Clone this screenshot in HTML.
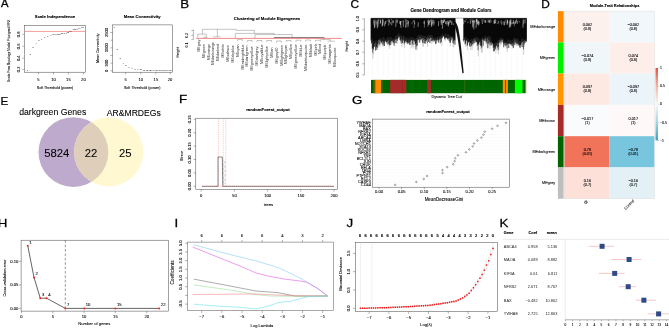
<!DOCTYPE html>
<html><head><meta charset="utf-8"><style>
html,body{margin:0;padding:0;background:#fff;width:669px;height:328px;overflow:hidden}
svg text{font-family:"Liberation Sans", sans-serif}
svg{will-change:transform}
svg text{stroke:currentColor;stroke-width:0.08px}
svg text[font-weight=bold]{stroke-width:0.12px}
svg text.pt{stroke:none}
</style></head><body>
<svg width="669" height="328" viewBox="0 0 669 328" style="display:block"><defs><linearGradient id="lg" x1="0" y1="0" x2="0" y2="1"><stop offset="0" stop-color="#e0553f"/><stop offset="0.25" stop-color="#f6b3a3"/><stop offset="0.5" stop-color="#f7f7f7"/><stop offset="0.75" stop-color="#a3d5e6"/><stop offset="1" stop-color="#3b9fc4"/></linearGradient></defs>
<text transform="translate(0.9 6.5) scale(1.08 1)" x="0" y="0" font-size="10.4" style="stroke-width:0.25px">A</text>
<text transform="translate(180.2 7.6) scale(1.28 1)" x="0" y="0" font-size="10.4" style="stroke-width:0.25px">B</text>
<text transform="translate(350.4 7.6) scale(1.14 1)" x="0" y="0" font-size="10.4" style="stroke-width:0.25px">C</text>
<text transform="translate(541.2 7.6) scale(1.14 1)" x="0" y="0" font-size="10.4" style="stroke-width:0.25px">D</text>
<text transform="translate(0.4 104.6) scale(1.12 1)" x="0" y="0" font-size="10.4" style="stroke-width:0.25px">E</text>
<text transform="translate(178.9 102.6) scale(1.28 1)" x="0" y="0" font-size="10.4" style="stroke-width:0.25px">F</text>
<text transform="translate(351.9 103.9) scale(1.28 1)" x="0" y="0" font-size="10.4" style="stroke-width:0.25px">G</text>
<text transform="translate(-2.3 226.9) scale(1.28 1)" x="0" y="0" font-size="10.4" style="stroke-width:0.25px">H</text>
<text transform="translate(174.5 226.8) scale(1.28 1)" x="0" y="0" font-size="10.4" style="stroke-width:0.25px">I</text>
<text transform="translate(346.6 226.6) scale(1.28 1)" x="0" y="0" font-size="10.4" style="stroke-width:0.25px">J</text>
<text transform="translate(499.6 226.9) scale(1.28 1)" x="0" y="0" font-size="10.4" style="stroke-width:0.25px">K</text>
<rect x="24.4" y="25.3" width="61" height="46.9" fill="none" stroke="#444" stroke-width="0.5"/>
<text x="55" y="18.21" font-size="4.2" text-anchor="middle" font-weight="bold">Scale Independence</text>
<line x1="24.4" y1="31.4" x2="85.4" y2="31.4" stroke="#f27b7b" stroke-width="0.75"/>
<line x1="22.2" y1="69.4" x2="24.4" y2="69.4" stroke="#444" stroke-width="0.4"/>
<text x="20.48" y="69.4" font-size="4.1" text-anchor="middle" transform="rotate(-90 20.48 69.4)">0.2</text>
<line x1="22.2" y1="58.2" x2="24.4" y2="58.2" stroke="#444" stroke-width="0.4"/>
<text x="20.48" y="58.2" font-size="4.1" text-anchor="middle" transform="rotate(-90 20.48 58.2)">0.4</text>
<line x1="22.2" y1="46.3" x2="24.4" y2="46.3" stroke="#444" stroke-width="0.4"/>
<text x="20.48" y="46.3" font-size="4.1" text-anchor="middle" transform="rotate(-90 20.48 46.3)">0.6</text>
<line x1="22.2" y1="34.3" x2="24.4" y2="34.3" stroke="#444" stroke-width="0.4"/>
<text x="20.48" y="34.3" font-size="4.1" text-anchor="middle" transform="rotate(-90 20.48 34.3)">0.8</text>
<line x1="38.5" y1="72.2" x2="38.5" y2="74.4" stroke="#444" stroke-width="0.4"/>
<text x="38.5" y="80.68" font-size="4.1" text-anchor="middle">5</text>
<line x1="53.5" y1="72.2" x2="53.5" y2="74.4" stroke="#444" stroke-width="0.4"/>
<text x="53.5" y="80.68" font-size="4.1" text-anchor="middle">10</text>
<line x1="68.4" y1="72.2" x2="68.4" y2="74.4" stroke="#444" stroke-width="0.4"/>
<text x="68.4" y="80.68" font-size="4.1" text-anchor="middle">15</text>
<line x1="83.4" y1="72.2" x2="83.4" y2="74.4" stroke="#444" stroke-width="0.4"/>
<text x="83.4" y="80.68" font-size="4.1" text-anchor="middle">20</text>
<text x="55" y="89.2" font-size="3.6" text-anchor="middle">Soft Threshold (power)</text>
<text x="10.39" y="51" font-size="3.3" text-anchor="middle" transform="rotate(-90 10.39 51)">Scale Free Topology Model Fit,signed R^2</text>
<text x="27.3" y="70.96" font-size="2.4" text-anchor="middle" fill="#111" class="pt">1</text>
<text x="30.1" y="55.26" font-size="2.4" text-anchor="middle" fill="#111" class="pt">2</text>
<text x="33" y="47.96" font-size="2.4" text-anchor="middle" fill="#111" class="pt">3</text>
<text x="36.2" y="43.86" font-size="2.4" text-anchor="middle" fill="#111" class="pt">4</text>
<text x="39" y="41.46" font-size="2.4" text-anchor="middle" fill="#111" class="pt">5</text>
<text x="41.7" y="39.86" font-size="2.4" text-anchor="middle" fill="#111" class="pt">6</text>
<text x="44.7" y="38.26" font-size="2.4" text-anchor="middle" fill="#111" class="pt">7</text>
<text x="47.6" y="37.06" font-size="2.4" text-anchor="middle" fill="#111" class="pt">8</text>
<text x="50.8" y="36.16" font-size="2.4" text-anchor="middle" fill="#111" class="pt">9</text>
<text x="53.6" y="35.36" font-size="2.4" text-anchor="middle" fill="#111" class="pt">10</text>
<text x="56.5" y="34.66" font-size="2.4" text-anchor="middle" fill="#111" class="pt">11</text>
<text x="59.2" y="34.56" font-size="2.4" text-anchor="middle" fill="#111" class="pt">12</text>
<text x="62.1" y="34.16" font-size="2.4" text-anchor="middle" fill="#111" class="pt">13</text>
<text x="65.4" y="33.86" font-size="2.4" text-anchor="middle" fill="#111" class="pt">14</text>
<text x="67.8" y="33.36" font-size="2.4" text-anchor="middle" fill="#111" class="pt">15</text>
<text x="70.5" y="32.26" font-size="2.4" text-anchor="middle" fill="#111" class="pt">16</text>
<text x="73.8" y="30.46" font-size="2.4" text-anchor="middle" fill="#111" class="pt">17</text>
<text x="76.2" y="29.66" font-size="2.4" text-anchor="middle" fill="#111" class="pt">18</text>
<text x="79.4" y="28.86" font-size="2.4" text-anchor="middle" fill="#111" class="pt">19</text>
<text x="82.7" y="28.16" font-size="2.4" text-anchor="middle" fill="#111" class="pt">20</text>
<rect x="112.5" y="24.9" width="60.1" height="47.3" fill="none" stroke="#444" stroke-width="0.5"/>
<text x="142.2" y="18.21" font-size="4.2" text-anchor="middle" font-weight="bold">Mean Connectivity</text>
<line x1="110.3" y1="70.8" x2="112.5" y2="70.8" stroke="#444" stroke-width="0.4"/>
<text x="108.28" y="70.8" font-size="4.1" text-anchor="middle" transform="rotate(-90 108.28 70.8)">0</text>
<line x1="110.3" y1="63.1" x2="112.5" y2="63.1" stroke="#444" stroke-width="0.4"/>
<text x="108.28" y="63.1" font-size="4.1" text-anchor="middle" transform="rotate(-90 108.28 63.1)">500</text>
<line x1="110.3" y1="55.5" x2="112.5" y2="55.5" stroke="#444" stroke-width="0.4"/>
<line x1="110.3" y1="47.8" x2="112.5" y2="47.8" stroke="#444" stroke-width="0.4"/>
<text x="108.28" y="47.8" font-size="4.1" text-anchor="middle" transform="rotate(-90 108.28 47.8)">1500</text>
<line x1="110.3" y1="40.2" x2="112.5" y2="40.2" stroke="#444" stroke-width="0.4"/>
<line x1="110.3" y1="32.5" x2="112.5" y2="32.5" stroke="#444" stroke-width="0.4"/>
<text x="108.28" y="32.5" font-size="4.1" text-anchor="middle" transform="rotate(-90 108.28 32.5)">2500</text>
<line x1="125.7" y1="72.2" x2="125.7" y2="74.4" stroke="#444" stroke-width="0.4"/>
<text x="125.7" y="80.68" font-size="4.1" text-anchor="middle">5</text>
<line x1="140.8" y1="72.2" x2="140.8" y2="74.4" stroke="#444" stroke-width="0.4"/>
<text x="140.8" y="80.68" font-size="4.1" text-anchor="middle">10</text>
<line x1="155.9" y1="72.2" x2="155.9" y2="74.4" stroke="#444" stroke-width="0.4"/>
<text x="155.9" y="80.68" font-size="4.1" text-anchor="middle">15</text>
<line x1="170.1" y1="72.2" x2="170.1" y2="74.4" stroke="#444" stroke-width="0.4"/>
<text x="170.1" y="80.68" font-size="4.1" text-anchor="middle">20</text>
<text x="142.2" y="89.2" font-size="3.6" text-anchor="middle">Soft Threshold (power)</text>
<text x="99.4" y="48.2" font-size="3.6" text-anchor="middle" transform="rotate(-90 99.4 48.2)">Mean Connectivity</text>
<text x="114.17" y="28.06" font-size="2.4" text-anchor="middle" fill="#111" class="pt">1</text>
<text x="117.13" y="49.56" font-size="2.4" text-anchor="middle" fill="#111" class="pt">2</text>
<text x="120.09" y="58.76" font-size="2.4" text-anchor="middle" fill="#111" class="pt">3</text>
<text x="123.06" y="63.56" font-size="2.4" text-anchor="middle" fill="#111" class="pt">4</text>
<text x="126.03" y="66.16" font-size="2.4" text-anchor="middle" fill="#111" class="pt">5</text>
<text x="128.99" y="67.76" font-size="2.4" text-anchor="middle" fill="#111" class="pt">6</text>
<text x="131.96" y="68.86" font-size="2.4" text-anchor="middle" fill="#111" class="pt">7</text>
<text x="134.92" y="69.66" font-size="2.4" text-anchor="middle" fill="#111" class="pt">8</text>
<text x="137.88" y="70.06" font-size="2.4" text-anchor="middle" fill="#111" class="pt">9</text>
<text x="140.85" y="70.36" font-size="2.4" text-anchor="middle" fill="#111" class="pt">10</text>
<text x="143.81" y="70.56" font-size="2.4" text-anchor="middle" fill="#111" class="pt">11</text>
<text x="146.78" y="70.66" font-size="2.4" text-anchor="middle" fill="#111" class="pt">12</text>
<text x="149.75" y="70.86" font-size="2.4" text-anchor="middle" fill="#111" class="pt">13</text>
<text x="152.71" y="70.96" font-size="2.4" text-anchor="middle" fill="#111" class="pt">14</text>
<text x="155.68" y="70.96" font-size="2.4" text-anchor="middle" fill="#111" class="pt">15</text>
<text x="158.64" y="70.96" font-size="2.4" text-anchor="middle" fill="#111" class="pt">16</text>
<text x="161.61" y="71.16" font-size="2.4" text-anchor="middle" fill="#111" class="pt">17</text>
<text x="164.57" y="71.16" font-size="2.4" text-anchor="middle" fill="#111" class="pt">18</text>
<text x="167.53" y="71.16" font-size="2.4" text-anchor="middle" fill="#111" class="pt">19</text>
<text x="170.5" y="71.16" font-size="2.4" text-anchor="middle" fill="#111" class="pt">20</text>
<text x="267" y="20.41" font-size="4.2" text-anchor="middle" font-weight="bold">Clustering of Module Eigengenes</text>
<text x="179.3" y="52.4" font-size="3.6" text-anchor="middle" transform="rotate(-90 179.3 52.4)">Height</text>
<line x1="193.3" y1="29.6" x2="193.3" y2="39.5" stroke="#444" stroke-width="0.4"/>
<text x="188.12" y="44.8" font-size="3.4" text-anchor="middle" transform="rotate(-90 188.12 44.8)">0.1</text>
<text x="188.12" y="35.4" font-size="3.4" text-anchor="middle" transform="rotate(-90 188.12 35.4)">0.3</text>
<line x1="191.3" y1="30.5" x2="193.3" y2="30.5" stroke="#444" stroke-width="0.35"/>
<line x1="191.3" y1="35.4" x2="193.3" y2="35.4" stroke="#444" stroke-width="0.35"/>
<line x1="191.3" y1="39.5" x2="193.3" y2="39.5" stroke="#444" stroke-width="0.35"/>
<text x="199.8" y="39.5" font-size="3.5" text-anchor="end" fill="#222" transform="rotate(-90 199.8 39.5)" class="pt">MEgrey</text>
<text x="204.67" y="44.1" font-size="3.5" text-anchor="end" fill="#222" transform="rotate(-90 204.67 44.1)" class="pt">MEgreen</text>
<text x="209.54" y="44.1" font-size="3.5" text-anchor="end" fill="#222" transform="rotate(-90 209.54 44.1)" class="pt">MEorange</text>
<text x="214.4" y="42.2" font-size="3.5" text-anchor="end" fill="#222" transform="rotate(-90 214.4 42.2)" class="pt">MEdarkorange</text>
<text x="219.27" y="44.1" font-size="3.5" text-anchor="end" fill="#222" transform="rotate(-90 219.27 44.1)" class="pt">MEdarkred</text>
<text x="224.14" y="44.1" font-size="3.5" text-anchor="end" fill="#222" transform="rotate(-90 224.14 44.1)" class="pt">MEwhite</text>
<text x="229.01" y="45.3" font-size="3.5" text-anchor="end" fill="#222" transform="rotate(-90 229.01 45.3)" class="pt">MEsalmon</text>
<text x="233.87" y="45.3" font-size="3.5" text-anchor="end" fill="#222" transform="rotate(-90 233.87 45.3)" class="pt">MEskyblue</text>
<text x="238.74" y="44.5" font-size="3.5" text-anchor="end" fill="#222" transform="rotate(-90 238.74 44.5)" class="pt">MEcyan</text>
<text x="243.61" y="44.5" font-size="3.5" text-anchor="end" fill="#222" transform="rotate(-90 243.61 44.5)" class="pt">MEmidnightblue</text>
<text x="248.48" y="45.5" font-size="3.5" text-anchor="end" fill="#222" transform="rotate(-90 248.48 45.5)" class="pt">MEdarkgreen</text>
<text x="253.35" y="46.5" font-size="3.5" text-anchor="end" fill="#222" transform="rotate(-90 253.35 46.5)" class="pt">MEgreenyellow</text>
<text x="258.21" y="46.5" font-size="3.5" text-anchor="end" fill="#222" transform="rotate(-90 258.21 46.5)" class="pt">MEdarkgrey</text>
<text x="263.08" y="44.5" font-size="3.5" text-anchor="end" fill="#222" transform="rotate(-90 263.08 44.5)" class="pt">MEroyalblue</text>
<text x="267.95" y="46.1" font-size="3.5" text-anchor="end" fill="#222" transform="rotate(-90 267.95 46.1)" class="pt">MElightyellow</text>
<text x="272.82" y="47.5" font-size="3.5" text-anchor="end" fill="#222" transform="rotate(-90 272.82 47.5)" class="pt">MEtan</text>
<text x="277.69" y="47.5" font-size="3.5" text-anchor="end" fill="#222" transform="rotate(-90 277.69 47.5)" class="pt">MEgrey60</text>
<text x="282.55" y="45.1" font-size="3.5" text-anchor="end" fill="#222" transform="rotate(-90 282.55 45.1)" class="pt">MElightgreen</text>
<text x="287.42" y="45.1" font-size="3.5" text-anchor="end" fill="#222" transform="rotate(-90 287.42 45.1)" class="pt">MElightcyan</text>
<text x="292.29" y="44" font-size="3.5" text-anchor="end" fill="#222" transform="rotate(-90 292.29 44)" class="pt">MEyellow</text>
<text x="297.16" y="44.5" font-size="3.5" text-anchor="end" fill="#222" transform="rotate(-90 297.16 44.5)" class="pt">MEgreenyellow</text>
<text x="302.02" y="44.5" font-size="3.5" text-anchor="end" fill="#222" transform="rotate(-90 302.02 44.5)" class="pt">MEblue</text>
<text x="306.89" y="44.5" font-size="3.5" text-anchor="end" fill="#222" transform="rotate(-90 306.89 44.5)" class="pt">MEdarkturquoise</text>
<text x="311.76" y="43.8" font-size="3.5" text-anchor="end" fill="#222" transform="rotate(-90 311.76 43.8)" class="pt">MEblack</text>
<text x="316.63" y="43.8" font-size="3.5" text-anchor="end" fill="#222" transform="rotate(-90 316.63 43.8)" class="pt">MEpink</text>
<text x="321.5" y="43.8" font-size="3.5" text-anchor="end" fill="#222" transform="rotate(-90 321.5 43.8)" class="pt">MEred</text>
<text x="326.36" y="44.5" font-size="3.5" text-anchor="end" fill="#222" transform="rotate(-90 326.36 44.5)" class="pt">MEpurple</text>
<text x="331.23" y="44.5" font-size="3.5" text-anchor="end" fill="#222" transform="rotate(-90 331.23 44.5)" class="pt">MEmagenta</text>
<text x="336.1" y="47.6" font-size="3.5" text-anchor="end" fill="#222" transform="rotate(-90 336.1 47.6)" class="pt">MEturquoise</text>
<line x1="202.4" y1="29.3" x2="236.1" y2="29.3" stroke="#555" stroke-width="0.35"/>
<line x1="202.4" y1="29.3" x2="202.4" y2="34.1" stroke="#555" stroke-width="0.35"/>
<line x1="197.8" y1="34.1" x2="206.2" y2="34.1" stroke="#555" stroke-width="0.35"/>
<line x1="197.8" y1="34.1" x2="197.8" y2="38.4" stroke="#555" stroke-width="0.35"/>
<line x1="206.2" y1="34.1" x2="206.2" y2="37.4" stroke="#555" stroke-width="0.35"/>
<line x1="203.3" y1="37.4" x2="207.4" y2="37.4" stroke="#555" stroke-width="0.35"/>
<line x1="217.3" y1="29.3" x2="217.3" y2="36.8" stroke="#555" stroke-width="0.35"/>
<line x1="213" y1="36.8" x2="220.5" y2="36.8" stroke="#555" stroke-width="0.35"/>
<line x1="236.1" y1="29.3" x2="236.1" y2="30.3" stroke="#555" stroke-width="0.35"/>
<line x1="236.1" y1="30.3" x2="254.4" y2="30.3" stroke="#555" stroke-width="0.35"/>
<line x1="254.4" y1="30.3" x2="254.4" y2="33.4" stroke="#555" stroke-width="0.35"/>
<line x1="235.3" y1="33.4" x2="274.2" y2="33.4" stroke="#555" stroke-width="0.35"/>
<line x1="235.3" y1="33.4" x2="235.3" y2="38.4" stroke="#555" stroke-width="0.35"/>
<line x1="274.2" y1="33.4" x2="274.2" y2="34.5" stroke="#555" stroke-width="0.35"/>
<line x1="255" y1="34.5" x2="292.2" y2="34.5" stroke="#555" stroke-width="0.35"/>
<line x1="255" y1="34.5" x2="255" y2="38.4" stroke="#555" stroke-width="0.35"/>
<line x1="292.2" y1="34.5" x2="292.2" y2="37.5" stroke="#555" stroke-width="0.35"/>
<line x1="274" y1="37.5" x2="324.2" y2="37.5" stroke="#333" stroke-width="0.6"/>
<line x1="324.2" y1="37.5" x2="324.2" y2="39.6" stroke="#555" stroke-width="0.35"/>
<line x1="320.4" y1="39.6" x2="330.3" y2="39.6" stroke="#555" stroke-width="0.35"/>
<line x1="330.3" y1="39.6" x2="330.3" y2="41.2" stroke="#555" stroke-width="0.35"/>
<line x1="327.5" y1="41.2" x2="334.9" y2="41.2" stroke="#555" stroke-width="0.35"/>
<line x1="237.54" y1="39.6" x2="242.41" y2="39.6" stroke="#555" stroke-width="0.35"/>
<line x1="237.54" y1="39.6" x2="237.54" y2="41.2" stroke="#555" stroke-width="0.35"/>
<line x1="242.41" y1="39.6" x2="242.41" y2="41.2" stroke="#555" stroke-width="0.35"/>
<line x1="247.28" y1="40.5" x2="252.15" y2="40.5" stroke="#555" stroke-width="0.35"/>
<line x1="247.28" y1="40.5" x2="247.28" y2="42.1" stroke="#555" stroke-width="0.35"/>
<line x1="252.15" y1="40.5" x2="252.15" y2="42.1" stroke="#555" stroke-width="0.35"/>
<line x1="257.01" y1="40.5" x2="261.88" y2="40.5" stroke="#555" stroke-width="0.35"/>
<line x1="257.01" y1="40.5" x2="257.01" y2="42.1" stroke="#555" stroke-width="0.35"/>
<line x1="261.88" y1="40.5" x2="261.88" y2="42.1" stroke="#555" stroke-width="0.35"/>
<line x1="266.75" y1="40.5" x2="271.62" y2="40.5" stroke="#555" stroke-width="0.35"/>
<line x1="266.75" y1="40.5" x2="266.75" y2="42.1" stroke="#555" stroke-width="0.35"/>
<line x1="271.62" y1="40.5" x2="271.62" y2="42.1" stroke="#555" stroke-width="0.35"/>
<line x1="276.49" y1="41" x2="281.35" y2="41" stroke="#555" stroke-width="0.35"/>
<line x1="276.49" y1="41" x2="276.49" y2="42.6" stroke="#555" stroke-width="0.35"/>
<line x1="281.35" y1="41" x2="281.35" y2="42.6" stroke="#555" stroke-width="0.35"/>
<line x1="286.22" y1="40.5" x2="291.09" y2="40.5" stroke="#555" stroke-width="0.35"/>
<line x1="286.22" y1="40.5" x2="286.22" y2="42.1" stroke="#555" stroke-width="0.35"/>
<line x1="291.09" y1="40.5" x2="291.09" y2="42.1" stroke="#555" stroke-width="0.35"/>
<line x1="295.96" y1="40.2" x2="300.82" y2="40.2" stroke="#555" stroke-width="0.35"/>
<line x1="295.96" y1="40.2" x2="295.96" y2="41.8" stroke="#555" stroke-width="0.35"/>
<line x1="300.82" y1="40.2" x2="300.82" y2="41.8" stroke="#555" stroke-width="0.35"/>
<line x1="305.69" y1="40" x2="310.56" y2="40" stroke="#555" stroke-width="0.35"/>
<line x1="305.69" y1="40" x2="305.69" y2="41.6" stroke="#555" stroke-width="0.35"/>
<line x1="310.56" y1="40" x2="310.56" y2="41.6" stroke="#555" stroke-width="0.35"/>
<line x1="315.43" y1="40.2" x2="320.3" y2="40.2" stroke="#555" stroke-width="0.35"/>
<line x1="315.43" y1="40.2" x2="315.43" y2="41.8" stroke="#555" stroke-width="0.35"/>
<line x1="320.3" y1="40.2" x2="320.3" y2="41.8" stroke="#555" stroke-width="0.35"/>
<line x1="196.3" y1="38.4" x2="341.8" y2="38.4" stroke="#f26060" stroke-width="0.75"/>
<text x="348.4" y="46.4" font-size="3.6" text-anchor="middle" transform="rotate(-90 348.4 46.4)">Height</text>
<text x="450.9" y="11.92" font-size="4.5" text-anchor="middle" font-weight="bold">Gene Dendrogram and Module Colors</text>
<line x1="364.4" y1="18.8" x2="364.4" y2="75" stroke="#444" stroke-width="0.4"/>
<line x1="362.3" y1="18.8" x2="364.4" y2="18.8" stroke="#444" stroke-width="0.4"/>
<text x="359.3" y="18.8" font-size="3.6" text-anchor="middle" transform="rotate(-90 359.3 18.8)">1.0</text>
<line x1="362.3" y1="29.8" x2="364.4" y2="29.8" stroke="#444" stroke-width="0.4"/>
<text x="359.3" y="29.8" font-size="3.6" text-anchor="middle" transform="rotate(-90 359.3 29.8)">0.9</text>
<line x1="362.3" y1="41.2" x2="364.4" y2="41.2" stroke="#444" stroke-width="0.4"/>
<text x="359.3" y="41.2" font-size="3.6" text-anchor="middle" transform="rotate(-90 359.3 41.2)">0.8</text>
<line x1="362.3" y1="52.2" x2="364.4" y2="52.2" stroke="#444" stroke-width="0.4"/>
<text x="359.3" y="52.2" font-size="3.6" text-anchor="middle" transform="rotate(-90 359.3 52.2)">0.7</text>
<line x1="362.3" y1="63.8" x2="364.4" y2="63.8" stroke="#444" stroke-width="0.4"/>
<text x="359.3" y="63.8" font-size="3.6" text-anchor="middle" transform="rotate(-90 359.3 63.8)">0.6</text>
<line x1="362.3" y1="75" x2="364.4" y2="75" stroke="#444" stroke-width="0.4"/>
<text x="359.3" y="75" font-size="3.6" text-anchor="middle" transform="rotate(-90 359.3 75)">0.5</text>
<line x1="372.5" y1="40" x2="372.5" y2="78.5" stroke="#d0d0d0" stroke-width="0.3" stroke-dasharray="0.7,0.9"/>
<line x1="377.85" y1="40" x2="377.85" y2="78.5" stroke="#d0d0d0" stroke-width="0.3" stroke-dasharray="0.7,0.9"/>
<line x1="383.2" y1="40" x2="383.2" y2="78.5" stroke="#d0d0d0" stroke-width="0.3" stroke-dasharray="0.7,0.9"/>
<line x1="388.55" y1="40" x2="388.55" y2="78.5" stroke="#d0d0d0" stroke-width="0.3" stroke-dasharray="0.7,0.9"/>
<line x1="393.9" y1="40" x2="393.9" y2="78.5" stroke="#d0d0d0" stroke-width="0.3" stroke-dasharray="0.7,0.9"/>
<line x1="399.25" y1="40" x2="399.25" y2="78.5" stroke="#d0d0d0" stroke-width="0.3" stroke-dasharray="0.7,0.9"/>
<line x1="404.6" y1="40" x2="404.6" y2="78.5" stroke="#d0d0d0" stroke-width="0.3" stroke-dasharray="0.7,0.9"/>
<line x1="409.95" y1="40" x2="409.95" y2="78.5" stroke="#d0d0d0" stroke-width="0.3" stroke-dasharray="0.7,0.9"/>
<line x1="415.3" y1="40" x2="415.3" y2="78.5" stroke="#d0d0d0" stroke-width="0.3" stroke-dasharray="0.7,0.9"/>
<line x1="420.65" y1="40" x2="420.65" y2="78.5" stroke="#d0d0d0" stroke-width="0.3" stroke-dasharray="0.7,0.9"/>
<line x1="426" y1="40" x2="426" y2="78.5" stroke="#d0d0d0" stroke-width="0.3" stroke-dasharray="0.7,0.9"/>
<line x1="431.35" y1="40" x2="431.35" y2="78.5" stroke="#d0d0d0" stroke-width="0.3" stroke-dasharray="0.7,0.9"/>
<line x1="436.7" y1="40" x2="436.7" y2="78.5" stroke="#d0d0d0" stroke-width="0.3" stroke-dasharray="0.7,0.9"/>
<line x1="442.05" y1="40" x2="442.05" y2="78.5" stroke="#d0d0d0" stroke-width="0.3" stroke-dasharray="0.7,0.9"/>
<line x1="447.4" y1="40" x2="447.4" y2="78.5" stroke="#d0d0d0" stroke-width="0.3" stroke-dasharray="0.7,0.9"/>
<line x1="452.75" y1="40" x2="452.75" y2="78.5" stroke="#d0d0d0" stroke-width="0.3" stroke-dasharray="0.7,0.9"/>
<line x1="458.1" y1="40" x2="458.1" y2="78.5" stroke="#d0d0d0" stroke-width="0.3" stroke-dasharray="0.7,0.9"/>
<line x1="463.45" y1="40" x2="463.45" y2="78.5" stroke="#d0d0d0" stroke-width="0.3" stroke-dasharray="0.7,0.9"/>
<line x1="468.8" y1="40" x2="468.8" y2="78.5" stroke="#d0d0d0" stroke-width="0.3" stroke-dasharray="0.7,0.9"/>
<line x1="474.15" y1="40" x2="474.15" y2="78.5" stroke="#d0d0d0" stroke-width="0.3" stroke-dasharray="0.7,0.9"/>
<line x1="479.5" y1="40" x2="479.5" y2="78.5" stroke="#d0d0d0" stroke-width="0.3" stroke-dasharray="0.7,0.9"/>
<line x1="484.85" y1="40" x2="484.85" y2="78.5" stroke="#d0d0d0" stroke-width="0.3" stroke-dasharray="0.7,0.9"/>
<line x1="490.2" y1="40" x2="490.2" y2="78.5" stroke="#d0d0d0" stroke-width="0.3" stroke-dasharray="0.7,0.9"/>
<line x1="495.55" y1="40" x2="495.55" y2="78.5" stroke="#d0d0d0" stroke-width="0.3" stroke-dasharray="0.7,0.9"/>
<line x1="500.9" y1="40" x2="500.9" y2="78.5" stroke="#d0d0d0" stroke-width="0.3" stroke-dasharray="0.7,0.9"/>
<line x1="506.25" y1="40" x2="506.25" y2="78.5" stroke="#d0d0d0" stroke-width="0.3" stroke-dasharray="0.7,0.9"/>
<line x1="511.6" y1="40" x2="511.6" y2="78.5" stroke="#d0d0d0" stroke-width="0.3" stroke-dasharray="0.7,0.9"/>
<line x1="516.95" y1="40" x2="516.95" y2="78.5" stroke="#d0d0d0" stroke-width="0.3" stroke-dasharray="0.7,0.9"/>
<line x1="522.3" y1="40" x2="522.3" y2="78.5" stroke="#d0d0d0" stroke-width="0.3" stroke-dasharray="0.7,0.9"/>
<path d="M371,18.3V40.39M371.42,18.3V43.46M371.84,18.3V42.47M372.26,18.3V49M372.68,18.3V52.4M373.1,18.3V47.78M373.52,18.3V49.73M373.94,18.3V46.42M374.36,18.3V46.94M374.78,18.3V44.17M375.2,18.3V43.3M375.62,18.3V50.61M376.04,18.3V47.6M376.46,18.3V47.13M376.88,18.3V49.86M377.3,18.3V44.16M377.72,18.3V47.74M378.14,18.3V43.37M378.56,18.3V39.93M378.98,18.3V45.34M379.4,18.3V40.07M379.82,18.3V44.37M380.24,18.3V40.26M380.66,18.3V41.27M381.08,18.3V43.11M381.5,18.3V42.5M381.92,18.3V41.4M382.34,18.3V40.94M382.76,18.3V44.25M383.18,18.3V45.66M383.6,18.3V41.66M384.02,18.3V43M384.44,18.3V46.11M384.86,18.3V41.23M385.28,18.3V41.41M385.7,18.3V40.52M386.12,18.3V42.35M386.54,18.3V42.33M386.96,18.3V41.41M387.38,18.3V41.42M387.8,18.3V44.61M388.22,18.3V39.99M388.64,18.3V43.69M389.06,18.3V40.02M389.48,18.3V45.13M389.9,18.3V45.19M390.32,18.3V41.96M390.74,18.3V44.87M391.16,18.3V40.6M391.58,18.3V40.78M392,18.3V42.4M392.42,18.3V40.75M392.84,18.3V40.53M393.26,18.3V42.41M393.68,18.3V42.72M394.1,18.3V45.79M394.52,18.3V39.87M394.94,18.3V43.37M395.36,18.3V39.88M395.78,18.3V38.48M396.2,18.3V42.95M396.62,18.3V39.57M397.04,18.3V38.62M397.46,18.3V40.86M397.88,18.3V38.91M398.3,18.3V36.03M398.72,18.3V37.71M399.14,18.3V37.24M399.56,18.3V36.74M399.98,18.3V40.11M400.4,18.3V40.42M400.82,18.3V41.3M401.24,18.3V38.77M401.66,18.3V43.53M402.08,18.3V39.4M402.5,18.3V43.01M402.92,18.3V40.59M403.34,18.3V40.49M403.76,18.3V38.79M404.18,18.3V44.48M404.6,18.3V42.39M405.02,18.3V42.79M405.44,18.3V41.28M405.86,18.3V40.35M406.28,18.3V40.43M406.7,18.3V42.09M407.12,18.3V43.45M407.54,18.3V42.79M407.96,18.3V44.01M408.38,18.3V42.96M408.8,18.3V40.45M409.22,18.3V42.44M409.64,18.3V45.04M410.06,18.3V42.09M410.48,18.3V40.62M410.9,18.3V44.72M411.32,18.3V40.24M411.74,18.3V39.99M412.16,18.3V40.8M412.58,18.3V43.85M413,18.3V44.97M413.42,18.3V39.99M413.84,18.3V40.5M414.26,18.3V41.19M414.68,18.3V41.71M415.1,18.3V44.65M415.52,18.3V43.93M415.94,18.3V49.44M416.36,18.3V42.3M416.78,18.3V46.31M417.2,18.3V45.52M417.62,18.3V39.8M418.04,18.3V38.73M418.46,18.3V39.51M418.88,18.3V40.14M419.3,18.3V42.66M419.72,18.3V37.22M420.14,18.3V40.34M420.56,18.3V39.44M420.98,18.3V37.2M421.4,18.3V39.48M421.82,18.3V39.07M422.24,18.3V38.18M422.66,18.3V42.8M423.08,18.3V43.05M423.5,18.3V38.02M423.92,18.3V40.29M424.34,18.3V39.2M424.76,18.3V43.31M425.18,18.3V43.74M425.6,18.3V40.67M426.02,18.3V41.14M426.44,18.3V40.39M426.86,18.3V38.32M427.28,18.3V43.18M427.7,18.3V39.31M428.12,18.3V38.23M428.54,18.3V41.91M428.96,18.3V37.29M429.38,18.3V38.99M429.8,18.3V43.05M430.22,18.3V37.3M430.64,18.3V37.74M431.06,18.3V41.24M431.48,18.3V38.04M431.9,18.3V41M432.32,18.3V40.92M432.74,18.3V39.9M433.16,18.3V38.6M433.58,18.3V40.31M434,18.3V41.72M434.42,18.3V40.33M434.84,18.3V40.54M435.26,18.3V39.72M435.68,18.3V44.17M436.1,18.3V43.25M436.52,18.3V40.43M436.94,18.3V39.18M437.36,18.3V40.36M437.78,18.3V38.73M438.2,18.3V40.45M438.62,18.3V42.62M439.04,18.3V40.21M439.46,18.3V38.51M439.88,18.3V39.35M440.3,18.3V43.28M440.72,18.3V38.87M441.14,18.3V38.3M441.56,18.3V42.14M441.98,18.3V37.17M442.4,18.3V38.36M442.82,18.3V36.22M443.24,18.3V35.93M443.66,18.3V36.56M444.08,18.3V36.97M444.5,18.3V38.5M444.92,18.3V39.48M445.34,18.3V38.16M445.76,18.3V37.08M446.18,18.3V38.08M446.6,18.3V38.08M447.02,18.3V37.28M447.44,18.3V39.33M447.86,18.3V38.74M448.28,18.3V39.23M448.7,18.3V37.59M449.12,18.3V41.05M449.54,18.3V37.95M449.96,18.3V42.66M450.38,18.3V42.7M450.8,18.3V37.49M451.22,18.3V40.35M451.64,18.3V37.44M452.06,18.3V38.54M452.48,18.3V37.63M452.9,18.3V43.02M453.32,18.3V40.67M453.74,18.3V43.86M454.16,18.3V40.42M454.58,18.3V40.85M455,18.3V44.67M463.4,18.3V40.26M463.82,18.3V41.52M464.24,18.3V39.77M464.66,18.3V39.63M465.08,18.3V44.47M465.5,18.3V43.81M465.92,18.3V40.4M466.34,18.3V40.06M466.76,18.3V41.18M467.18,18.3V46.11M467.6,18.3V44.79M468.02,18.3V42.16M468.44,18.3V42.38M468.86,18.3V41.92M469.28,18.3V41.81M469.7,18.3V45.91M470.12,18.3V46.81M470.54,18.3V43.12M470.96,18.3V43.32M471.38,18.3V45.25M471.8,18.3V46.43M472.22,18.3V44.06M472.64,18.3V41.19M473.06,18.3V44.68M473.48,18.3V42.7M473.9,18.3V40.13M474.32,18.3V38.89M474.74,18.3V43.36M475.16,18.3V41.33M475.58,18.3V39.69M476,18.3V42M476.42,18.3V42.27M476.84,18.3V41.83M477.26,18.3V45.89M477.68,18.3V43.55M478.1,18.3V50.26M478.52,18.3V44.3M478.94,18.3V44.99M479.36,18.3V42.2M479.78,18.3V41.6M480.2,18.3V42.61M480.62,18.3V45.96M481.04,18.3V45.63M481.46,18.3V47.52M481.88,18.3V47.55M482.3,18.3V39.49M482.72,18.3V39.28M483.14,18.3V45.74M483.56,18.3V39.97M483.98,18.3V40.85M484.4,18.3V39.39M484.82,18.3V40.52M485.24,18.3V41.51M485.66,18.3V38.37M486.08,18.3V38.36M486.5,18.3V41.61M486.92,18.3V43.68M487.34,18.3V38.17M487.76,18.3V48.25M488.18,18.3V39.4M488.6,18.3V43.82M489.02,18.3V40.39M489.44,18.3V42.2M489.86,18.3V45.22M490.28,18.3V42.49M490.7,18.3V43.22M491.12,18.3V45.52M491.54,18.3V42.17M491.96,18.3V44.88M492.38,18.3V43.09M492.8,18.3V43.65M493.22,18.3V47.98M493.64,18.3V51.43M494.06,18.3V46.11M494.48,18.3V50.92M494.9,18.3V47.37M495.32,18.3V48.64M495.74,18.3V49.28M496.16,18.3V46.31M496.58,18.3V45.52M497,18.3V43.23M497.42,18.3V47.75M497.84,18.3V43.63M498.26,18.3V49.96M498.68,18.3V47.12M499.1,18.3V42.65M499.52,18.3V40.42M499.94,18.3V43.14M500.36,18.3V41.67M500.78,18.3V40.04M501.2,18.3V42.44M501.62,18.3V40.45M502.04,18.3V39.48M502.46,18.3V39.73M502.88,18.3V41.97M503.3,18.3V43.26M503.72,18.3V47.31M504.14,18.3V44.15M504.56,18.3V42.87M504.98,18.3V45.31M505.4,18.3V43.1M505.82,18.3V46.07M506.24,18.3V43.21M506.66,18.3V44.94M507.08,18.3V48.43M507.5,18.3V44.18M507.92,18.3V43.59M508.34,18.3V43.87M508.76,18.3V48.06M509.18,18.3V43.58M509.6,18.3V43.53M510.02,18.3V43.58M510.44,18.3V44.4M510.86,18.3V44.21M511.28,18.3V44.16M511.7,18.3V45.34M512.12,18.3V45.85M512.54,18.3V43.03M512.96,18.3V46.3M513.38,18.3V47.94M513.8,18.3V43.76M514.22,18.3V39.89M514.64,18.3V45.1M515.06,18.3V41.91M515.48,18.3V42.91M515.9,18.3V40.49M516.32,18.3V43.7M516.74,18.3V44.11M517.16,18.3V42.04M517.58,18.3V44.23M518,18.3V43.82M518.42,18.3V45.34M518.84,18.3V43.91M519.26,18.3V45.47M519.68,18.3V46.81M520.1,18.3V48.08M520.52,18.3V45.04M520.94,18.3V45.33M521.36,18.3V43.36M521.78,18.3V42.12M522.2,18.3V47.04M522.62,18.3V41.62M523.04,18.3V42.3M523.46,18.3V49.34M523.88,18.3V41M524.3,18.3V44.37M524.72,18.3V40.9M525.14,18.3V42.96M525.56,18.3V40.98M525.98,18.3V41.48M526.4,18.3V41.73" stroke="#080808" stroke-width="0.7" fill="none"/>
<path d="M371.62,43.25V44.45M372.04,42.4V42.79M372.46,48.01V53.49M372.88,50.93V59.03M373.72,48.66V54.53M375.4,43.19V43.81M376.66,46.48V50.09M378.34,42.84V45.74M378.76,39.9V40.08M380.02,43.71V47.32M381.28,42.65V45.18M382.54,40.83V41.43M382.96,43.68V46.81M383.8,41.49V42.45M385.48,41.27V42.04M385.9,40.49V40.64M386.32,42.05V43.73M386.74,42.01V43.78M388.84,43.09V46.37M389.68,44.33V48.73M390.52,41.63V43.41M392.2,42.08V43.83M392.62,40.68V41.06M393.46,42.13V43.7M395.98,38.43V38.7M396.82,39.19V41.25M397.66,40.18V43.9M398.5,36.02V36.06M399.76,36.71V36.87M400.6,39.95V42.52M401.02,40.75V43.79M401.44,38.62V39.46M401.86,42.73V47.13M403.12,40.25V42.13M403.96,38.76V38.92M404.38,43.68V48.08M406.48,40.42V40.47M406.9,41.86V43.13M407.74,42.46V44.3M409,40.39V40.75M410.26,41.7V43.81M411.1,43.92V48.32M411.52,40.07V41M412.36,40.56V41.88M412.78,43.19V46.83M413.2,44.17V48.57M414.04,40.39V41.01M414.46,41.01V42.04M415.3,44.01V47.53M416.98,45.41V50.38M417.82,39.71V40.23M418.24,38.71V38.8M418.66,39.3V40.44M419.92,37.15V37.57M420.34,39.78V42.85M421.6,39.06V41.36M422.02,38.74V40.57M422.44,38.01V38.97M422.86,42V46.4M423.28,42.25V46.65M423.7,37.98V38.24M424.54,39.03V39.95M426.64,40.03V42.01M427.06,38.24V38.7M427.48,42.38V46.78M427.9,39.04V40.52M428.32,38.09V38.84M430.84,37.67V38.03M431.26,40.7V43.69M431.68,37.98V38.29M432.52,40.51V42.76M432.94,39.66V40.97M435.04,40.26V41.84M436.72,40.17V41.6M437.56,40.11V41.46M440.08,39.16V40.19M441.34,38.1V39.2M441.76,41.34V45.74M442.18,37.03V37.77M443.44,35.92V35.97M444.28,36.83V37.58M445.12,39.02V41.55M445.96,37.01V37.43M448.06,38.47V39.93M450.16,41.86V46.26M451,37.44V37.72M451.84,37.41V37.6M453.1,42.24V46.56M453.94,43.06V47.46M454.36,40.17V41.53M454.78,40.6V41.95M464.44,39.71V40.02M465.7,43.09V47.03M466.96,40.93V42.32M467.38,45.21V50.17M468.22,41.95V43.11M468.64,42.19V43.19M469.48,41.8V41.83M470.32,46.12V49.91M471.16,43.07V44.42M472,45.63V50.03M472.84,41.01V42.01M474.52,38.86V39M478.3,48.92V56.32M478.72,43.83V46.41M480.82,45.16V49.56M481.66,46.41V52.56M482.08,46.38V52.82M484.6,39.28V39.92M485.44,41.07V43.5M485.86,38.37V38.4M486.28,38.34V38.43M487.12,42.88V47.27M487.54,38.15V38.25M488.8,43.02V47.42M489.22,40.13V41.56M489.64,41.75V44.22M490.06,44.42V48.82M490.48,42.17V43.95M492.58,42.99V43.57M493.42,47.72V49.18M495.1,46.96V49.19M495.94,48.48V52.88M497.2,43.21V43.35M497.62,47.08V50.77M498.04,43.55V44M498.46,48.97V54.39M498.88,46.54V49.72M500.14,42.56V45.75M500.56,41.3V43.34M501.4,41.96V44.59M501.82,40.26V41.33M502.66,39.7V39.86M504.76,42.75V43.44M505.18,44.9V47.18M506.44,43.17V43.41M507.28,47.63V52.03M508.12,43.46V44.16M509.38,43.42V44.28M510.22,43.41V44.35M511.06,43.94V45.44M511.48,43.87V45.46M512.32,45.23V48.65M514,43.22V46.2M515.26,41.56V43.5M515.68,42.43V45.07M516.1,40.39V40.93M516.52,43.19V45.98M517.36,41.89V42.69M517.78,43.84V45.99M518.2,43.55V45.04M519.46,45.09V47.2M521.14,44.9V47.28M521.56,43.17V44.23M522.82,41.56V41.91M523.66,48.12V54.85M524.5,43.85V46.73M525.76,40.97V41.04M526.6,41.64V42.16" stroke="#888" stroke-width="0.4" fill="none"/>
<path d="M371,18.3 L371,37.66 L372.3,39.13 L373.6,41.52 L374.9,41.12 L376.2,39.76 L377.5,41.38 L378.8,38.39 L380.1,37.63 L381.4,38.89 L382.7,37.06 L384,37.02 L385.3,39.83 L386.6,38.17 L387.9,36.9 L389.2,37.85 L390.5,36.45 L391.8,38.12 L393.1,39.35 L394.4,37.78 L395.7,35.82 L397,34.93 L398.3,33.5 L399.6,33.73 L400.9,35.45 L402.2,36.08 L403.5,35.39 L404.8,36.81 L406.1,38.21 L407.4,37.13 L408.7,39.02 L410,36.59 L411.3,38.06 L412.6,36.91 L413.9,38.53 L415.2,38.38 L416.5,37.35 L417.8,36.06 L419.1,34.4 L420.4,35.16 L421.7,34.71 L423,36.24 L424.3,35.79 L425.6,36.09 L426.9,37.11 L428.2,34.97 L429.5,34.39 L430.8,35.12 L432.1,34.83 L433.4,37.41 L434.7,37.57 L436,38.03 L437.3,36.65 L438.6,36.86 L439.9,36.2 L441.2,35.56 L442.5,33.07 L443.8,35.23 L445.1,33.1 L446.4,34.52 L447.7,34.76 L449,34.09 L450.3,35.88 L451.6,36.25 L452.9,36.1 L454.2,38.11 L455.2,39.94 L455.2,18.3 Z" fill="#080808" stroke="none" stroke-width="0.5"/>
<path d="M463.3,18.3 L463.3,38.82 L464.6,36.75 L465.9,36.79 L467.2,38.52 L468.5,38.89 L469.8,41.2 L471.1,38.53 L472.4,39.16 L473.7,37.7 L475,37.8 L476.3,36.96 L477.6,37.54 L478.9,38.22 L480.2,39.97 L481.5,37.92 L482.8,37.2 L484.1,37.45 L485.4,34.98 L486.7,37.51 L488,36.04 L489.3,36.1 L490.6,37.23 L491.9,41.21 L493.2,44.28 L494.5,42.24 L495.8,43.01 L497.1,41.83 L498.4,39.88 L499.7,38.14 L501,37.4 L502.3,38 L503.6,39.03 L504.9,41.61 L506.2,42.31 L507.5,39.28 L508.8,39.75 L510.1,39.67 L511.4,40.87 L512.7,39.69 L514,37.66 L515.3,38.26 L516.6,38.53 L517.9,38.54 L519.2,41.17 L520.5,41.03 L521.8,38.27 L523.1,38.58 L524.4,40.09 L525.7,39.21 L526.5,39.1 L526.5,18.3 Z" fill="#080808" stroke="none" stroke-width="0.5"/>
<path d="M472.07,19.2L472.75,27.39M504.43,22.27L504.19,25.41M397.24,19.71L397.22,23.12M399.97,20.7L399.75,23.96M374.86,19.64L374.41,28.18M380.82,21.55L380.05,24.1M431.2,19.29L431.47,26.92M465.62,20.71L465.32,22.08M441.2,19.48L440.96,22.55M378.27,19.09L377.94,26.94M513.54,19.76L513.11,23.76M406.13,22.24L405.71,27.34M510.99,19.42L510.98,24.16M444.22,20.14L444.32,22.21M507.48,20.34L507.11,24.15M444.85,19.07L444.42,21.28M478.43,21.79L477.96,24.9M396.09,19.67L395.76,26.81M428.49,21.34L427.98,26.51M391.4,19.22L391.96,20.36M476.61,19.14L476.21,22.38M495.39,19.44L496.15,21.19M478.85,21.77L479.06,24.57M515.74,22.46L515.25,23.56M495.45,20.42L495.25,23.23M495.27,21.94L496.04,23.5M507.6,20.51L507.03,25.14M414.2,19.8L413.64,21.76M489.13,21.35L489.92,22.35M376.95,20.23L377.2,24.52M517.48,20.89L517.18,24.03M433.49,21.81L434.19,24.47M501.35,20.43L500.91,23.23M428.88,21.3L428.57,24.39M472.61,21.08L473,22.61M476.75,19.62L475.99,22.05M380.04,19.33L380.65,22.23M508.72,21.84L509.16,22.98M503.88,21.2L504.18,24.89M389.1,19.65L389.58,22.5M525.03,19.23L524.95,23.36M507.03,19.25L507.5,21.25M428.34,19.35L427.73,22.39M431.85,21.97L431.38,25.4M506.99,21.55L507.5,22.94M502.08,22.31L501.55,24.63M478.51,21.58L477.83,23.3M408.2,21.03L408.48,22.6M515.79,20.36L515.58,22.84M473.41,19.94L473.27,22.26M509.89,19.88L509.25,27.8M441.78,19.73L442.05,22.91M510.28,22.32L509.75,26.22M445.86,21.28L445.76,23.95M388.94,19.2L388.97,22.2M448.59,21.91L448.06,23.94M467.94,21.6L467.84,23.1M429.12,20.28L429.18,24.93M389.13,21.76L388.71,25.51M450.49,20.08L449.78,22.82M452.84,20.42L453.36,25.01M494.76,19.38L494,24.15M418.32,22.38L418,26.92M473.2,20.47L473.92,29.43M449.15,22.16L448.7,25.06M493.92,20.35L494.46,23.35M433.56,19.78L434.28,22.9M484.9,20.31L485.64,22.62M464.1,20.29L463.59,24.12M488.8,20.21L489.04,22.85M385.83,21L385.55,24.19M498.18,21.76L498.01,24.04M393.33,20.19L393.46,22.63M485.48,20.46L484.96,22.82M383,19.41L383.33,22.07M448.14,20.53L448.53,26.42M403.13,20.21L403.42,26.76M443.19,21.7L443.51,22.99M438.64,21.16L438.46,26.09M400.68,21.17L400.44,25.07M523.23,19.39L522.89,27.72M392.26,20.7L391.7,25.36M498.57,20.91L498.63,22.17M513.57,21.71L513.81,23.88M446.08,21.4L446.18,24.05M407.76,22.32L407.44,23.55M515.75,22.36L515.05,23.75M382.45,19.1L382.52,26.21M476.64,19.3L476,27.85M401.71,21.43L401.12,22.49M375.11,20.71L374.81,27.39M490.46,19.55L491.19,21.88M376.92,21.9L377.41,28.38M382.46,21.78L382.01,26.28M510.37,19.85L510.65,27.18M400.46,21.37L401.07,27.82M407.76,20.06L407.83,21.71M489.57,19.86L489.85,23.1M430.44,20L429.72,22.19M408.5,21.97L407.89,27.18M516.59,19.25L516.3,22.29M414.18,20.83L414.89,24.15M443.62,19.67L443.46,22.81M477.91,19.88L478.04,23.74M442.89,20.16L442.35,28.78M451.19,20.33L451.74,24.94M380.68,20.12L380.33,22.4M385.03,21.8L384.54,26.29M477.51,21.79L476.9,24.21M482.01,19.15L482.48,24.02M512.3,22.26L511.92,24.55M432.05,19.89L432.25,24.46" stroke="#fff" stroke-width="0.5" fill="none" stroke-opacity="0.9"/>
<path d="M392.95,21.47L393.55,22.99M385.84,20.5L385.5,22.68M424.64,20.48L424.34,27.69M474.88,19.65L474.13,23.5M405.35,19.26L404.99,20.36M432.66,19.84L433.18,26.13M494.65,20.37L494.15,23.13M403.55,20.97L403.74,22.23M478.88,20.91L478.97,23.51M414.67,22.29L413.95,27.95M373.61,19.74L374.08,22.65M488.14,19.38L488.14,22.35M373.55,21.56L373.74,24.89M474.48,20.47L473.75,27.07M441.56,19.99L441.51,24.94M485.65,20.1L486.06,22.57M505.29,19.69L505.2,23.13M378.37,19.97L377.88,23.01M429.69,21.14L429.44,22.7M441.56,20.95L441.01,24.58M477.54,19.49L477.25,23.52M478.4,21.28L478.46,25.89M391,22.06L390.52,24.15M412.23,21.56L412.04,24.33M447.49,20.71L446.85,25.63M405.65,19.7L405.78,21.77M514.29,21.41L514.46,26.27M423.69,21.46L424.26,24.34M408.1,22.09L407.65,24.54M383.27,21.92L383.01,24.92M518.95,20.49L519.69,22.69M424.65,22.26L424.23,23.54M406.33,19.27L405.83,27.81M470.28,19.37L470.45,24.05M397.08,19.61L396.95,22.08M466.28,19.22L466.02,20.27M523.62,20.01L523.47,24.42M424.32,21.24L424.32,23.5M387.76,20.24L387.43,21.35M449.47,20.2L450.23,22.84M483.91,19.2L484.02,21.94M470.42,20.72L470.42,22.49" stroke="#aaa" stroke-width="0.5" fill="none"/>
<line x1="371" y1="18.3" x2="526.5" y2="18.3" stroke="#333" stroke-width="0.6"/>
<path d="M452.5,19.2 C455.5,21 457.2,24 458.2,28 C459.7,35 461,45 461.9,55 L463.7,73 L462.4,73.2 L459.9,55 C458.9,45 457.3,35 455.6,29 C454.6,25 453.2,22 450.8,20 Z" fill="#111" stroke="none" stroke-width="0.5"/>
<path d="M455.5,18.6 L463.3,18.6 L463.3,40 C462,34 460.5,28 459,24 C458,21.5 457,20 455.5,18.6 Z" fill="#fff"/>
<rect x="371" y="79.9" width="155.1" height="13.3" fill="#006400"/>
<rect x="373.4" y="79.9" width="1.4" height="13.3" fill="#6a5a10"/>
<rect x="374.8" y="79.9" width="1.2" height="13.3" fill="#c87a00"/>
<rect x="376" y="79.9" width="5.1" height="13.3" fill="#ff8c00"/>
<rect x="381.6" y="79.9" width="1" height="13.3" fill="#3a6a08"/>
<rect x="390.1" y="79.9" width="16.2" height="13.3" fill="#a52a2a"/>
<rect x="427.2" y="79.9" width="3.6" height="13.3" fill="#a52a2a"/>
<rect x="502.8" y="79.9" width="2.2" height="13.3" fill="#ff8c00"/>
<rect x="505.7" y="79.9" width="2.2" height="13.3" fill="#ff8c00"/>
<rect x="514.9" y="79.9" width="7.6" height="13.3" fill="#00ff00"/>
<rect x="525.3" y="79.9" width="0.8" height="13.3" fill="#ff8c00"/>
<line x1="402.5" y1="79.9" x2="402.5" y2="93.2" stroke="#8a2020" stroke-width="0.5"/>
<line x1="411" y1="79.9" x2="411" y2="93.2" stroke="#107410" stroke-width="0.5"/>
<line x1="412.8" y1="79.9" x2="412.8" y2="93.2" stroke="#107410" stroke-width="0.5"/>
<line x1="464.7" y1="79.9" x2="464.7" y2="93.2" stroke="#6a7010" stroke-width="0.5"/>
<line x1="473.6" y1="79.9" x2="473.6" y2="93.2" stroke="#0a700a" stroke-width="0.5"/>
<line x1="483.1" y1="79.9" x2="483.1" y2="93.2" stroke="#0a700a" stroke-width="0.5"/>
<text x="446.6" y="98.17" font-size="3.8" text-anchor="middle">Dynamic Tree Cut</text>
<text x="614.5" y="7.4" font-size="3.9" text-anchor="middle" font-weight="bold">Module-Trait Relationships</text>
<rect x="557.9" y="11.1" width="5.7" height="31.3" fill="#ff8c00"/>
<rect x="564.2" y="11.1" width="45.3" height="31.3" fill="#fdf1ee"/>
<rect x="609.5" y="11.1" width="44.9" height="31.3" fill="#f1f7fb"/>
<text x="555.2" y="28.12" font-size="3.8" text-anchor="end" fill="#111">MEdarkorange</text>
<text x="587.4" y="25.72" font-size="3.8" text-anchor="middle">0.062</text>
<text x="587.4" y="29.92" font-size="3.8" text-anchor="middle">(0.8)</text>
<text x="633.3" y="25.72" font-size="3.8" text-anchor="middle">−0.062</text>
<text x="633.3" y="29.92" font-size="3.8" text-anchor="middle">(0.8)</text>
<rect x="557.9" y="42.4" width="5.7" height="31.2" fill="#00f000"/>
<rect x="564.2" y="42.4" width="45.3" height="31.2" fill="#eff7fb"/>
<rect x="609.5" y="42.4" width="44.9" height="31.2" fill="#fdeeea"/>
<text x="555.2" y="59.37" font-size="3.8" text-anchor="end" fill="#111">MEgreen</text>
<text x="587.4" y="56.97" font-size="3.8" text-anchor="middle">−0.074</text>
<text x="587.4" y="61.17" font-size="3.8" text-anchor="middle">(0.8)</text>
<text x="633.3" y="56.97" font-size="3.8" text-anchor="middle">0.074</text>
<text x="633.3" y="61.17" font-size="3.8" text-anchor="middle">(0.8)</text>
<rect x="557.9" y="73.6" width="5.7" height="31.3" fill="#ff9800"/>
<rect x="564.2" y="73.6" width="45.3" height="31.3" fill="#fde8e2"/>
<rect x="609.5" y="73.6" width="44.9" height="31.3" fill="#ebf4f8"/>
<text x="555.2" y="90.62" font-size="3.8" text-anchor="end" fill="#111">MEorange</text>
<text x="587.4" y="88.22" font-size="3.8" text-anchor="middle">0.097</text>
<text x="587.4" y="92.42" font-size="3.8" text-anchor="middle">(0.8)</text>
<text x="633.3" y="88.22" font-size="3.8" text-anchor="middle">−0.097</text>
<text x="633.3" y="92.42" font-size="3.8" text-anchor="middle">(0.8)</text>
<rect x="557.9" y="104.9" width="5.7" height="31.3" fill="#a52a2a"/>
<rect x="564.2" y="104.9" width="45.3" height="31.3" fill="#f9fbfd"/>
<rect x="609.5" y="104.9" width="44.9" height="31.3" fill="#fef9f8"/>
<text x="555.2" y="121.92" font-size="3.8" text-anchor="end" fill="#111">MEbrown</text>
<text x="587.4" y="119.52" font-size="3.8" text-anchor="middle">−0.017</text>
<text x="587.4" y="123.72" font-size="3.8" text-anchor="middle">(1)</text>
<text x="633.3" y="119.52" font-size="3.8" text-anchor="middle">0.017</text>
<text x="633.3" y="123.72" font-size="3.8" text-anchor="middle">(1)</text>
<rect x="557.9" y="136.2" width="5.7" height="31.2" fill="#006400"/>
<rect x="564.2" y="136.2" width="45.3" height="31.2" fill="#f0735a"/>
<rect x="609.5" y="136.2" width="44.9" height="31.2" fill="#78c6de"/>
<text x="555.2" y="153.17" font-size="3.8" text-anchor="end" fill="#111">MEdarkgreen</text>
<text x="587.4" y="150.77" font-size="3.8" text-anchor="middle">0.78</text>
<text x="587.4" y="154.97" font-size="3.8" text-anchor="middle">(0.01)</text>
<text x="633.3" y="150.77" font-size="3.8" text-anchor="middle">−0.78</text>
<text x="633.3" y="154.97" font-size="3.8" text-anchor="middle">(0.01)</text>
<rect x="557.9" y="167.4" width="5.7" height="31.3" fill="#bebebe"/>
<rect x="564.2" y="167.4" width="45.3" height="31.3" fill="#fde0d8"/>
<rect x="609.5" y="167.4" width="44.9" height="31.3" fill="#e3f1f6"/>
<text x="555.2" y="184.42" font-size="3.8" text-anchor="end" fill="#111">MEgrey</text>
<text x="587.4" y="182.02" font-size="3.8" text-anchor="middle">0.16</text>
<text x="587.4" y="186.22" font-size="3.8" text-anchor="middle">(0.7)</text>
<text x="633.3" y="182.02" font-size="3.8" text-anchor="middle">−0.16</text>
<text x="633.3" y="186.22" font-size="3.8" text-anchor="middle">(0.7)</text>
<rect x="564.2" y="11.1" width="90.2" height="187.6" fill="none" stroke="#d8d8d8" stroke-width="0.4"/>
<rect x="655.5" y="68" width="2.5" height="72.4" fill="url(#lg)"/>
<line x1="658" y1="68" x2="659.4" y2="68" stroke="#666" stroke-width="0.3"/>
<text x="660" y="69.26" font-size="3.5">1</text>
<line x1="658" y1="86.1" x2="659.4" y2="86.1" stroke="#666" stroke-width="0.3"/>
<text x="660" y="87.36" font-size="3.5">0.5</text>
<line x1="658" y1="104.2" x2="659.4" y2="104.2" stroke="#666" stroke-width="0.3"/>
<text x="660" y="105.46" font-size="3.5">0</text>
<line x1="658" y1="122.3" x2="659.4" y2="122.3" stroke="#666" stroke-width="0.3"/>
<text x="660" y="123.56" font-size="3.5">−0.5</text>
<line x1="658" y1="140.4" x2="659.4" y2="140.4" stroke="#666" stroke-width="0.3"/>
<text x="660" y="141.66" font-size="3.5">−1</text>
<text x="588" y="202" font-size="4.4" text-anchor="end" transform="rotate(-45 588 202)">dt</text>
<text x="634.3" y="201.3" font-size="3.8" text-anchor="end" transform="rotate(-45 634.3 201.3)">Control</text>
<circle cx="73.4" cy="152.1" r="34.9" fill="#beaacd"/>
<circle cx="108.7" cy="151.9" r="34.6" fill="#fff8d0"/>
<clipPath id="cpv"><circle cx="73.4" cy="152.1" r="34.9"/></clipPath>
<circle cx="108.7" cy="151.9" r="34.6" fill="#dfcfba" clip-path="url(#cpv)"/>
<text x="52.7" y="115.3" font-size="8.7" text-anchor="middle">darkgreen Genes</text>
<text x="133.8" y="115.8" font-size="8.6" text-anchor="middle">AR&amp;MRDEGs</text>
<text x="56.8" y="157.07" font-size="11.3" text-anchor="middle">5824</text>
<text x="91" y="157.07" font-size="11.3" text-anchor="middle">22</text>
<text x="125.3" y="157.07" font-size="11.3" text-anchor="middle">25</text>
<text x="268" y="111.11" font-size="4.2" text-anchor="middle" font-weight="bold">randomForest_output</text>
<rect x="195.8" y="118.2" width="141.9" height="71.3" fill="none" stroke="#444" stroke-width="0.5"/>
<line x1="193.6" y1="186.3" x2="195.8" y2="186.3" stroke="#444" stroke-width="0.4"/>
<text x="191.08" y="186.3" font-size="4.1" text-anchor="middle" transform="rotate(-90 191.08 186.3)">0.00</text>
<line x1="193.6" y1="172.9" x2="195.8" y2="172.9" stroke="#444" stroke-width="0.4"/>
<text x="191.08" y="172.9" font-size="4.1" text-anchor="middle" transform="rotate(-90 191.08 172.9)">0.05</text>
<line x1="193.6" y1="159.5" x2="195.8" y2="159.5" stroke="#444" stroke-width="0.4"/>
<text x="191.08" y="159.5" font-size="4.1" text-anchor="middle" transform="rotate(-90 191.08 159.5)">0.10</text>
<line x1="193.6" y1="146.1" x2="195.8" y2="146.1" stroke="#444" stroke-width="0.4"/>
<text x="191.08" y="146.1" font-size="4.1" text-anchor="middle" transform="rotate(-90 191.08 146.1)">0.15</text>
<line x1="193.6" y1="132.7" x2="195.8" y2="132.7" stroke="#444" stroke-width="0.4"/>
<text x="191.08" y="132.7" font-size="4.1" text-anchor="middle" transform="rotate(-90 191.08 132.7)">0.20</text>
<line x1="193.6" y1="119.3" x2="195.8" y2="119.3" stroke="#444" stroke-width="0.4"/>
<text x="191.08" y="119.3" font-size="4.1" text-anchor="middle" transform="rotate(-90 191.08 119.3)">0.25</text>
<line x1="201.2" y1="189.5" x2="201.2" y2="191.7" stroke="#444" stroke-width="0.4"/>
<text x="201.2" y="196.98" font-size="4.1" text-anchor="middle">0</text>
<line x1="234.4" y1="189.5" x2="234.4" y2="191.7" stroke="#444" stroke-width="0.4"/>
<text x="234.4" y="196.98" font-size="4.1" text-anchor="middle">50</text>
<line x1="267.6" y1="189.5" x2="267.6" y2="191.7" stroke="#444" stroke-width="0.4"/>
<text x="267.6" y="196.98" font-size="4.1" text-anchor="middle">100</text>
<line x1="300.8" y1="189.5" x2="300.8" y2="191.7" stroke="#444" stroke-width="0.4"/>
<text x="300.8" y="196.98" font-size="4.1" text-anchor="middle">150</text>
<line x1="334" y1="189.5" x2="334" y2="191.7" stroke="#444" stroke-width="0.4"/>
<text x="334" y="196.98" font-size="4.1" text-anchor="middle">200</text>
<text x="268.5" y="205.95" font-size="4.3" text-anchor="middle">trees</text>
<text x="183.05" y="155.8" font-size="4.3" text-anchor="middle" transform="rotate(-90 183.05 155.8)">Error</text>
<line x1="201.86" y1="186.3" x2="334" y2="186.3" stroke="#f06060" stroke-width="0.5" stroke-dasharray="1,1"/>
<line x1="218.4" y1="119.6" x2="218.4" y2="186.3" stroke="#f08080" stroke-width="0.45" stroke-dasharray="0.9,0.9"/>
<line x1="223.3" y1="119.6" x2="223.3" y2="186.3" stroke="#f08080" stroke-width="0.45" stroke-dasharray="0.9,0.9"/>
<line x1="225.8" y1="119.6" x2="225.8" y2="186.3" stroke="#f08080" stroke-width="0.45" stroke-dasharray="0.9,0.9"/>
<polyline points="222.3,160 225.8,162.2 222.3,164.4 225.8,166.6 222.3,168.8 225.8,171 222.3,173.2 225.8,175.4 222.3,177.6 225.8,179.8 222.3,182 225.8,184.2" fill="none" stroke="#999" stroke-width="0.35"/>
<polyline points="201.86,186.3 218,186.3 218,157 222.3,157 222.8,186.3 334,186.3" fill="none" stroke="#111" stroke-width="0.5"/>
<text x="447.9" y="112.51" font-size="4.2" text-anchor="middle" font-weight="bold">randomForest_output</text>
<rect x="372.7" y="119.1" width="136.6" height="68.1" fill="none" stroke="#444" stroke-width="0.5"/>
<line x1="379" y1="187.2" x2="379" y2="189.2" stroke="#444" stroke-width="0.4"/>
<text x="379" y="193.28" font-size="4.1" text-anchor="middle">0.00</text>
<line x1="401.63" y1="187.2" x2="401.63" y2="189.2" stroke="#444" stroke-width="0.4"/>
<text x="401.63" y="193.28" font-size="4.1" text-anchor="middle">0.05</text>
<line x1="424.26" y1="187.2" x2="424.26" y2="189.2" stroke="#444" stroke-width="0.4"/>
<text x="424.26" y="193.28" font-size="4.1" text-anchor="middle">0.10</text>
<line x1="446.89" y1="187.2" x2="446.89" y2="189.2" stroke="#444" stroke-width="0.4"/>
<text x="446.89" y="193.28" font-size="4.1" text-anchor="middle">0.15</text>
<line x1="469.52" y1="187.2" x2="469.52" y2="189.2" stroke="#444" stroke-width="0.4"/>
<text x="469.52" y="193.28" font-size="4.1" text-anchor="middle">0.20</text>
<line x1="492.15" y1="187.2" x2="492.15" y2="189.2" stroke="#444" stroke-width="0.4"/>
<text x="492.15" y="193.28" font-size="4.1" text-anchor="middle">0.25</text>
<text x="443.9" y="201.22" font-size="4.5" text-anchor="middle">MeanDecreaseGini</text>
<line x1="373.5" y1="184.9" x2="508.5" y2="184.9" stroke="#d8d8d8" stroke-width="0.3" stroke-dasharray="0.6,1"/>
<circle cx="395.22" cy="184.9" r="0.8" fill="none" stroke="#333" stroke-width="0.4"/>
<text x="370.8" y="186.3" font-size="3.9" text-anchor="end" fill="#111">CD44</text>
<line x1="373.5" y1="181.94" x2="508.5" y2="181.94" stroke="#d8d8d8" stroke-width="0.3" stroke-dasharray="0.6,1"/>
<circle cx="416.36" cy="181.94" r="0.8" fill="none" stroke="#333" stroke-width="0.4"/>
<text x="370.8" y="183.35" font-size="3.9" text-anchor="end" fill="#111">CASP3</text>
<line x1="373.5" y1="178.99" x2="508.5" y2="178.99" stroke="#d8d8d8" stroke-width="0.3" stroke-dasharray="0.6,1"/>
<circle cx="423.74" cy="178.99" r="0.8" fill="none" stroke="#333" stroke-width="0.4"/>
<text x="370.8" y="180.39" font-size="3.9" text-anchor="end" fill="#111">BCL2</text>
<line x1="373.5" y1="176.03" x2="508.5" y2="176.03" stroke="#d8d8d8" stroke-width="0.3" stroke-dasharray="0.6,1"/>
<circle cx="427.09" cy="176.03" r="0.8" fill="none" stroke="#333" stroke-width="0.4"/>
<text x="370.8" y="177.43" font-size="3.9" text-anchor="end" fill="#111">PTPN11</text>
<line x1="373.5" y1="173.07" x2="508.5" y2="173.07" stroke="#d8d8d8" stroke-width="0.3" stroke-dasharray="0.6,1"/>
<circle cx="442.52" cy="173.07" r="0.8" fill="none" stroke="#333" stroke-width="0.4"/>
<text x="370.8" y="174.48" font-size="3.9" text-anchor="end" fill="#111">FOS</text>
<line x1="373.5" y1="170.11" x2="508.5" y2="170.11" stroke="#d8d8d8" stroke-width="0.3" stroke-dasharray="0.6,1"/>
<circle cx="442.52" cy="170.11" r="0.8" fill="none" stroke="#333" stroke-width="0.4"/>
<text x="370.8" y="171.52" font-size="3.9" text-anchor="end" fill="#111">TP53</text>
<line x1="373.5" y1="167.16" x2="508.5" y2="167.16" stroke="#d8d8d8" stroke-width="0.3" stroke-dasharray="0.6,1"/>
<circle cx="447.22" cy="167.16" r="0.8" fill="none" stroke="#333" stroke-width="0.4"/>
<text x="370.8" y="168.56" font-size="3.9" text-anchor="end" fill="#111">RELA</text>
<line x1="373.5" y1="164.2" x2="508.5" y2="164.2" stroke="#d8d8d8" stroke-width="0.3" stroke-dasharray="0.6,1"/>
<circle cx="453.26" cy="164.2" r="0.8" fill="none" stroke="#333" stroke-width="0.4"/>
<text x="370.8" y="165.6" font-size="3.9" text-anchor="end" fill="#111">CHUK</text>
<line x1="373.5" y1="161.24" x2="508.5" y2="161.24" stroke="#d8d8d8" stroke-width="0.3" stroke-dasharray="0.6,1"/>
<circle cx="454.6" cy="161.24" r="0.8" fill="none" stroke="#333" stroke-width="0.4"/>
<text x="370.8" y="162.65" font-size="3.9" text-anchor="end" fill="#111">JUN</text>
<line x1="373.5" y1="158.29" x2="508.5" y2="158.29" stroke="#d8d8d8" stroke-width="0.3" stroke-dasharray="0.6,1"/>
<circle cx="455.27" cy="158.29" r="0.8" fill="none" stroke="#333" stroke-width="0.4"/>
<text x="370.8" y="159.69" font-size="3.9" text-anchor="end" fill="#111">BCL2L1</text>
<line x1="373.5" y1="155.33" x2="508.5" y2="155.33" stroke="#d8d8d8" stroke-width="0.3" stroke-dasharray="0.6,1"/>
<circle cx="457.95" cy="155.33" r="0.8" fill="none" stroke="#333" stroke-width="0.4"/>
<text x="370.8" y="156.73" font-size="3.9" text-anchor="end" fill="#111">TNF</text>
<line x1="373.5" y1="152.37" x2="508.5" y2="152.37" stroke="#d8d8d8" stroke-width="0.3" stroke-dasharray="0.6,1"/>
<circle cx="466" cy="152.37" r="0.8" fill="none" stroke="#333" stroke-width="0.4"/>
<text x="370.8" y="153.78" font-size="3.9" text-anchor="end" fill="#111">NFKB1</text>
<line x1="373.5" y1="149.41" x2="508.5" y2="149.41" stroke="#d8d8d8" stroke-width="0.3" stroke-dasharray="0.6,1"/>
<circle cx="469.36" cy="149.41" r="0.8" fill="none" stroke="#333" stroke-width="0.4"/>
<text x="370.8" y="150.82" font-size="3.9" text-anchor="end" fill="#111">SOCS3</text>
<line x1="373.5" y1="146.46" x2="508.5" y2="146.46" stroke="#d8d8d8" stroke-width="0.3" stroke-dasharray="0.6,1"/>
<circle cx="472.71" cy="146.46" r="0.8" fill="none" stroke="#333" stroke-width="0.4"/>
<text x="370.8" y="147.86" font-size="3.9" text-anchor="end" fill="#111">STAT3</text>
<line x1="373.5" y1="143.5" x2="508.5" y2="143.5" stroke="#d8d8d8" stroke-width="0.3" stroke-dasharray="0.6,1"/>
<circle cx="474.06" cy="143.5" r="0.8" fill="none" stroke="#333" stroke-width="0.4"/>
<text x="370.8" y="144.9" font-size="3.9" text-anchor="end" fill="#111">NOTCH1</text>
<line x1="373.5" y1="140.54" x2="508.5" y2="140.54" stroke="#d8d8d8" stroke-width="0.3" stroke-dasharray="0.6,1"/>
<circle cx="477.41" cy="140.54" r="0.8" fill="none" stroke="#333" stroke-width="0.4"/>
<text x="370.8" y="141.95" font-size="3.9" text-anchor="end" fill="#111">LMNA</text>
<line x1="373.5" y1="137.59" x2="508.5" y2="137.59" stroke="#d8d8d8" stroke-width="0.3" stroke-dasharray="0.6,1"/>
<circle cx="481.44" cy="137.59" r="0.8" fill="none" stroke="#333" stroke-width="0.4"/>
<text x="370.8" y="138.99" font-size="3.9" text-anchor="end" fill="#111">ABCA4</text>
<line x1="373.5" y1="134.63" x2="508.5" y2="134.63" stroke="#d8d8d8" stroke-width="0.3" stroke-dasharray="0.6,1"/>
<circle cx="483.45" cy="134.63" r="0.8" fill="none" stroke="#333" stroke-width="0.4"/>
<text x="370.8" y="136.03" font-size="3.9" text-anchor="end" fill="#111">KIF3A</text>
<line x1="373.5" y1="131.67" x2="508.5" y2="131.67" stroke="#d8d8d8" stroke-width="0.3" stroke-dasharray="0.6,1"/>
<circle cx="484.79" cy="131.67" r="0.8" fill="none" stroke="#333" stroke-width="0.4"/>
<text x="370.8" y="133.08" font-size="3.9" text-anchor="end" fill="#111">NFKB2</text>
<line x1="373.5" y1="128.71" x2="508.5" y2="128.71" stroke="#d8d8d8" stroke-width="0.3" stroke-dasharray="0.6,1"/>
<circle cx="492.17" cy="128.71" r="0.8" fill="none" stroke="#333" stroke-width="0.4"/>
<text x="370.8" y="130.12" font-size="3.9" text-anchor="end" fill="#111">BAX</text>
<line x1="373.5" y1="125.76" x2="508.5" y2="125.76" stroke="#d8d8d8" stroke-width="0.3" stroke-dasharray="0.6,1"/>
<circle cx="497.54" cy="125.76" r="0.8" fill="none" stroke="#333" stroke-width="0.4"/>
<text x="370.8" y="127.16" font-size="3.9" text-anchor="end" fill="#111">MAOA</text>
<line x1="373.5" y1="122.8" x2="508.5" y2="122.8" stroke="#d8d8d8" stroke-width="0.3" stroke-dasharray="0.6,1"/>
<circle cx="505.92" cy="122.8" r="0.8" fill="none" stroke="#333" stroke-width="0.4"/>
<text x="370.8" y="124.2" font-size="3.9" text-anchor="end" fill="#111">YWHAE</text>
<rect x="21.1" y="240.2" width="147.6" height="70.9" fill="none" stroke="#444" stroke-width="0.5"/>
<line x1="18.9" y1="308.4" x2="21.1" y2="308.4" stroke="#444" stroke-width="0.4"/>
<text x="18.3" y="309.91" font-size="4.2" text-anchor="end">0.00</text>
<line x1="18.9" y1="284.9" x2="21.1" y2="284.9" stroke="#444" stroke-width="0.4"/>
<text x="18.3" y="286.41" font-size="4.2" text-anchor="end">0.05</text>
<line x1="18.9" y1="261.4" x2="21.1" y2="261.4" stroke="#444" stroke-width="0.4"/>
<text x="18.3" y="262.91" font-size="4.2" text-anchor="end">0.10</text>
<line x1="21.5" y1="311.1" x2="21.5" y2="313.3" stroke="#444" stroke-width="0.4"/>
<text x="21.5" y="318.48" font-size="4.1" text-anchor="middle">0</text>
<line x1="52.8" y1="311.1" x2="52.8" y2="313.3" stroke="#444" stroke-width="0.4"/>
<text x="52.8" y="318.48" font-size="4.1" text-anchor="middle">5</text>
<line x1="84.1" y1="311.1" x2="84.1" y2="313.3" stroke="#444" stroke-width="0.4"/>
<text x="84.1" y="318.48" font-size="4.1" text-anchor="middle">10</text>
<line x1="115.4" y1="311.1" x2="115.4" y2="313.3" stroke="#444" stroke-width="0.4"/>
<text x="115.4" y="318.48" font-size="4.1" text-anchor="middle">15</text>
<line x1="146.7" y1="311.1" x2="146.7" y2="313.3" stroke="#444" stroke-width="0.4"/>
<text x="146.7" y="318.48" font-size="4.1" text-anchor="middle">20</text>
<text x="94.2" y="325.31" font-size="4.2" text-anchor="middle">Number of genes</text>
<text x="5.8" y="278" font-size="3.9" text-anchor="middle" transform="rotate(-90 5.8 278)">Cross-validation error</text>
<line x1="65.32" y1="240.2" x2="65.32" y2="311.1" stroke="#333" stroke-width="0.5" stroke-dasharray="2.6,1.8"/>
<polyline points="27.76,245.7 34.02,277.5 40.28,298.2 46.54,298.2 65.32,308.4 84.1,308.4 115.4,308.4 159.22,308.4" fill="none" stroke="#111" stroke-width="0.65"/>
<circle cx="27.76" cy="245.7" r="1" fill="#ff2020"/>
<text x="29.36" y="243.61" font-size="4.2">1</text>
<circle cx="34.02" cy="277.5" r="1" fill="#ff2020"/>
<text x="35.62" y="275.41" font-size="4.2">2</text>
<circle cx="40.28" cy="298.2" r="1" fill="#ff2020"/>
<text x="41.88" y="296.11" font-size="4.2">3</text>
<circle cx="46.54" cy="298.2" r="1" fill="#ff2020"/>
<text x="48.14" y="296.11" font-size="4.2">4</text>
<circle cx="65.32" cy="308.4" r="1" fill="#ff2020"/>
<text x="66.92" y="306.31" font-size="4.2">7</text>
<circle cx="84.1" cy="308.4" r="1" fill="#ff2020"/>
<text x="85.7" y="306.31" font-size="4.2">10</text>
<circle cx="115.4" cy="308.4" r="1" fill="#ff2020"/>
<text x="117" y="306.31" font-size="4.2">15</text>
<circle cx="159.22" cy="308.4" r="1" fill="#ff2020"/>
<text x="160.82" y="306.31" font-size="4.2">22</text>
<rect x="187.6" y="242.1" width="145.8" height="68.4" fill="none" stroke="#555" stroke-width="0.5"/>
<line x1="185" y1="243.2" x2="187.5" y2="243.2" stroke="#444" stroke-width="0.4"/>
<text x="182.21" y="243.2" font-size="4.2" text-anchor="middle" transform="rotate(-90 182.21 243.2)">3.0</text>
<line x1="185" y1="251.9" x2="187.5" y2="251.9" stroke="#444" stroke-width="0.4"/>
<text x="182.21" y="251.9" font-size="4.2" text-anchor="middle" transform="rotate(-90 182.21 251.9)">2.5</text>
<line x1="185" y1="260.6" x2="187.5" y2="260.6" stroke="#444" stroke-width="0.4"/>
<text x="182.21" y="260.6" font-size="4.2" text-anchor="middle" transform="rotate(-90 182.21 260.6)">2.0</text>
<line x1="185" y1="269.3" x2="187.5" y2="269.3" stroke="#444" stroke-width="0.4"/>
<text x="182.21" y="269.3" font-size="4.2" text-anchor="middle" transform="rotate(-90 182.21 269.3)">1.5</text>
<line x1="185" y1="278" x2="187.5" y2="278" stroke="#444" stroke-width="0.4"/>
<text x="182.21" y="278" font-size="4.2" text-anchor="middle" transform="rotate(-90 182.21 278)">1.0</text>
<line x1="185" y1="286.7" x2="187.5" y2="286.7" stroke="#444" stroke-width="0.4"/>
<text x="182.21" y="286.7" font-size="4.2" text-anchor="middle" transform="rotate(-90 182.21 286.7)">0.5</text>
<line x1="185" y1="295.4" x2="187.5" y2="295.4" stroke="#444" stroke-width="0.4"/>
<line x1="185" y1="304.1" x2="187.5" y2="304.1" stroke="#444" stroke-width="0.4"/>
<text x="182.21" y="304.1" font-size="4.2" text-anchor="middle" transform="rotate(-90 182.21 304.1)">-0.5</text>
<line x1="201.68" y1="310.5" x2="201.68" y2="313" stroke="#444" stroke-width="0.4"/>
<text x="201.68" y="318.41" font-size="4.2" text-anchor="middle">−7</text>
<line x1="221.85" y1="310.5" x2="221.85" y2="313" stroke="#444" stroke-width="0.4"/>
<text x="221.85" y="318.41" font-size="4.2" text-anchor="middle">−6</text>
<line x1="242.02" y1="310.5" x2="242.02" y2="313" stroke="#444" stroke-width="0.4"/>
<text x="242.02" y="318.41" font-size="4.2" text-anchor="middle">−5</text>
<line x1="262.19" y1="310.5" x2="262.19" y2="313" stroke="#444" stroke-width="0.4"/>
<text x="262.19" y="318.41" font-size="4.2" text-anchor="middle">−4</text>
<line x1="282.36" y1="310.5" x2="282.36" y2="313" stroke="#444" stroke-width="0.4"/>
<text x="282.36" y="318.41" font-size="4.2" text-anchor="middle">−3</text>
<line x1="302.53" y1="310.5" x2="302.53" y2="313" stroke="#444" stroke-width="0.4"/>
<text x="302.53" y="318.41" font-size="4.2" text-anchor="middle">−2</text>
<line x1="322.7" y1="310.5" x2="322.7" y2="313" stroke="#444" stroke-width="0.4"/>
<text x="322.7" y="318.41" font-size="4.2" text-anchor="middle">−1</text>
<text x="201.68" y="237.11" font-size="4.2" text-anchor="middle">6</text>
<line x1="201.68" y1="242.1" x2="201.68" y2="240" stroke="#444" stroke-width="0.4"/>
<text x="221.85" y="237.11" font-size="4.2" text-anchor="middle">6</text>
<line x1="221.85" y1="242.1" x2="221.85" y2="240" stroke="#444" stroke-width="0.4"/>
<text x="242.02" y="237.11" font-size="4.2" text-anchor="middle">6</text>
<line x1="242.02" y1="242.1" x2="242.02" y2="240" stroke="#444" stroke-width="0.4"/>
<text x="262.19" y="237.11" font-size="4.2" text-anchor="middle">6</text>
<line x1="262.19" y1="242.1" x2="262.19" y2="240" stroke="#444" stroke-width="0.4"/>
<text x="282.36" y="237.11" font-size="4.2" text-anchor="middle">4</text>
<line x1="282.36" y1="242.1" x2="282.36" y2="240" stroke="#444" stroke-width="0.4"/>
<text x="302.53" y="237.11" font-size="4.2" text-anchor="middle">3</text>
<line x1="302.53" y1="242.1" x2="302.53" y2="240" stroke="#444" stroke-width="0.4"/>
<text x="322.7" y="237.11" font-size="4.2" text-anchor="middle">2</text>
<line x1="322.7" y1="242.1" x2="322.7" y2="240" stroke="#444" stroke-width="0.4"/>
<text x="262" y="326.88" font-size="4.1" text-anchor="middle">Log Lambda</text>
<text x="174.16" y="272.5" font-size="4.6" text-anchor="middle" transform="rotate(-90 174.16 272.5)">Coefficients</text>
<polyline points="193.7,244.8 230,254.5 256,260.9 278,267.5 293,274.5 308.7,282.9 318,289 327.6,296" fill="none" stroke="#86cdf2" stroke-width="0.6"/>
<polyline points="192.6,247 215,256 240,266 256,273 269.2,276.3 284.6,279.1 300,281 306.5,282.2 318,288.5 327.6,296" fill="none" stroke="#e35ae3" stroke-width="0.6"/>
<polyline points="193.7,279.1 230,286 256,291 278,292.7 295.6,296 327.6,296" fill="none" stroke="#5a5a5a" stroke-width="0.5"/>
<polyline points="193.7,285 230,290 256,294.5 269.2,296 308.7,296.4 327.6,296" fill="none" stroke="#8fdc8f" stroke-width="0.55"/>
<polyline points="192.6,294.5 256,294 295.6,295.8 327.6,296" fill="none" stroke="#f08080" stroke-width="0.55"/>
<polyline points="193.7,304.2 216.8,306 240,307.3 256,309 269.2,305.9 278,302.6 291.2,301.1 308.7,296.5 327.6,296" fill="none" stroke="#6ae2f0" stroke-width="0.6"/>
<rect x="355.3" y="242.3" width="142.1" height="69.2" fill="none" stroke="#444" stroke-width="0.5"/>
<line x1="353" y1="308.3" x2="355.3" y2="308.3" stroke="#444" stroke-width="0.4"/>
<text x="350.48" y="308.3" font-size="4.1" text-anchor="middle" transform="rotate(-90 350.48 308.3)">0.0</text>
<line x1="353" y1="290" x2="355.3" y2="290" stroke="#444" stroke-width="0.4"/>
<text x="350.48" y="290" font-size="4.1" text-anchor="middle" transform="rotate(-90 350.48 290)">0.5</text>
<line x1="353" y1="271.7" x2="355.3" y2="271.7" stroke="#444" stroke-width="0.4"/>
<text x="350.48" y="271.7" font-size="4.1" text-anchor="middle" transform="rotate(-90 350.48 271.7)">1.0</text>
<line x1="353" y1="253.4" x2="355.3" y2="253.4" stroke="#444" stroke-width="0.4"/>
<text x="350.48" y="253.4" font-size="4.1" text-anchor="middle" transform="rotate(-90 350.48 253.4)">1.5</text>
<line x1="369.1" y1="311.5" x2="369.1" y2="313.8" stroke="#444" stroke-width="0.4"/>
<text x="369.1" y="318.71" font-size="4.2" text-anchor="middle">−7</text>
<line x1="388.9" y1="311.5" x2="388.9" y2="313.8" stroke="#444" stroke-width="0.4"/>
<text x="388.9" y="318.71" font-size="4.2" text-anchor="middle">−6</text>
<line x1="408.7" y1="311.5" x2="408.7" y2="313.8" stroke="#444" stroke-width="0.4"/>
<text x="408.7" y="318.71" font-size="4.2" text-anchor="middle">−5</text>
<line x1="428.5" y1="311.5" x2="428.5" y2="313.8" stroke="#444" stroke-width="0.4"/>
<text x="428.5" y="318.71" font-size="4.2" text-anchor="middle">−4</text>
<line x1="448.3" y1="311.5" x2="448.3" y2="313.8" stroke="#444" stroke-width="0.4"/>
<text x="448.3" y="318.71" font-size="4.2" text-anchor="middle">−3</text>
<line x1="468.1" y1="311.5" x2="468.1" y2="313.8" stroke="#444" stroke-width="0.4"/>
<text x="468.1" y="318.71" font-size="4.2" text-anchor="middle">−2</text>
<line x1="487.9" y1="311.5" x2="487.9" y2="313.8" stroke="#444" stroke-width="0.4"/>
<text x="487.9" y="318.71" font-size="4.2" text-anchor="middle">−1</text>
<text x="426" y="326.31" font-size="4.2" text-anchor="middle">Log(λ)</text>
<text x="341.58" y="273.8" font-size="4.1" text-anchor="middle" transform="rotate(-90 341.58 273.8)">Binomial Deviance</text>
<text x="360" y="236.9" font-size="3.9" text-anchor="middle" style="stroke-width:0.2px">6</text>
<text x="365.53" y="236.9" font-size="3.9" text-anchor="middle" style="stroke-width:0.2px">6</text>
<text x="371.07" y="236.9" font-size="3.9" text-anchor="middle" style="stroke-width:0.2px">6</text>
<text x="376.6" y="236.9" font-size="3.9" text-anchor="middle" style="stroke-width:0.2px">6</text>
<text x="382.13" y="236.9" font-size="3.9" text-anchor="middle" style="stroke-width:0.2px">6</text>
<text x="387.67" y="236.9" font-size="3.9" text-anchor="middle" style="stroke-width:0.2px">6</text>
<text x="393.2" y="236.9" font-size="3.9" text-anchor="middle" style="stroke-width:0.2px">6</text>
<text x="398.73" y="236.9" font-size="3.9" text-anchor="middle" style="stroke-width:0.2px">6</text>
<text x="404.27" y="236.9" font-size="3.9" text-anchor="middle" style="stroke-width:0.2px">6</text>
<text x="409.8" y="236.9" font-size="3.9" text-anchor="middle" style="stroke-width:0.2px">6</text>
<text x="415.33" y="236.9" font-size="3.9" text-anchor="middle" style="stroke-width:0.2px">6</text>
<text x="420.87" y="236.9" font-size="3.9" text-anchor="middle" style="stroke-width:0.2px">6</text>
<text x="426.4" y="236.9" font-size="3.9" text-anchor="middle" style="stroke-width:0.2px">6</text>
<text x="431.93" y="236.9" font-size="3.9" text-anchor="middle" style="stroke-width:0.2px">6</text>
<text x="437.47" y="236.9" font-size="3.9" text-anchor="middle" style="stroke-width:0.2px">5</text>
<text x="443" y="236.9" font-size="3.9" text-anchor="middle" style="stroke-width:0.2px">4</text>
<text x="448.53" y="236.9" font-size="3.9" text-anchor="middle" style="stroke-width:0.2px">4</text>
<text x="454.07" y="236.9" font-size="3.9" text-anchor="middle" style="stroke-width:0.2px">4</text>
<text x="459.6" y="236.9" font-size="3.9" text-anchor="middle" style="stroke-width:0.2px">4</text>
<text x="465.13" y="236.9" font-size="3.9" text-anchor="middle" style="stroke-width:0.2px">3</text>
<text x="470.67" y="236.9" font-size="3.9" text-anchor="middle" style="stroke-width:0.2px">3</text>
<text x="476.2" y="236.9" font-size="3.9" text-anchor="middle" style="stroke-width:0.2px">2</text>
<text x="481.73" y="236.9" font-size="3.9" text-anchor="middle" style="stroke-width:0.2px">2</text>
<text x="487.27" y="236.9" font-size="3.9" text-anchor="middle" style="stroke-width:0.2px">2</text>
<text x="492.8" y="236.9" font-size="3.9" text-anchor="middle" style="stroke-width:0.2px">0</text>
<line x1="360.5" y1="242.5" x2="360.5" y2="311.3" stroke="#aaa" stroke-width="0.35" stroke-dasharray="0.8,0.8"/>
<line x1="371.8" y1="242.5" x2="371.8" y2="311.3" stroke="#aaa" stroke-width="0.35" stroke-dasharray="0.8,0.8"/>
<path d="M360.5,307.89V308.69M360,307.89h1M360,308.69h1M362.67,307.83V308.64M362.17,307.83h1M362.17,308.64h1M364.84,307.77V308.59M364.34,307.77h1M364.34,308.59h1M367.02,307.71V308.54M366.52,307.71h1M366.52,308.54h1M369.19,307.65V308.49M368.69,307.65h1M368.69,308.49h1M371.36,307.59V308.44M370.86,307.59h1M370.86,308.44h1M373.53,307.54V308.38M373.03,307.54h1M373.03,308.38h1M375.7,307.48V308.33M375.2,307.48h1M375.2,308.33h1M377.88,307.42V308.28M377.38,307.42h1M377.38,308.28h1M380.05,307.36V308.23M379.55,307.36h1M379.55,308.23h1M382.22,307.3V308.18M381.72,307.3h1M381.72,308.18h1M384.39,307.24V308.13M383.89,307.24h1M383.89,308.13h1M386.57,307.18V308.08M386.07,307.18h1M386.07,308.08h1M388.74,307.12V308.02M388.24,307.12h1M388.24,308.02h1M390.91,307.01V307.93M390.41,307.01h1M390.41,307.93h1M393.08,306.9V307.83M392.58,306.9h1M392.58,307.83h1M395.25,306.79V307.74M394.75,306.79h1M394.75,307.74h1M397.43,306.68V307.64M396.93,306.68h1M396.93,307.64h1M399.6,306.57V307.54M399.1,306.57h1M399.1,307.54h1M401.77,306.45V307.45M401.27,306.45h1M401.27,307.45h1M403.94,306.34V307.35M403.44,306.34h1M403.44,307.35h1M406.11,306.23V307.25M405.61,306.23h1M405.61,307.25h1M408.29,306.12V307.15M407.79,306.12h1M407.79,307.15h1M410.46,305.98V307.04M409.96,305.98h1M409.96,307.04h1M412.63,305.84V306.91M412.13,305.84h1M412.13,306.91h1M414.8,305.7V306.79M414.3,305.7h1M414.3,306.79h1M416.98,305.56V306.67M416.48,305.56h1M416.48,306.67h1M419.15,305.41V306.54M418.65,305.41h1M418.65,306.54h1M421.32,305.27V306.42M420.82,305.27h1M420.82,306.42h1M423.49,305.13V306.3M422.99,305.13h1M422.99,306.3h1M425.66,304.99V306.17M425.16,304.99h1M425.16,306.17h1M427.84,304.85V306.05M427.34,304.85h1M427.34,306.05h1M430.01,304.58V305.82M429.51,304.58h1M429.51,305.82h1M432.18,304.25V305.53M431.68,304.25h1M431.68,305.53h1M434.35,303.92V305.25M433.85,303.92h1M433.85,305.25h1M436.52,303.59V304.96M436.02,303.59h1M436.02,304.96h1M438.7,303.26V304.68M438.2,303.26h1M438.2,304.68h1M440.87,302.94V304.39M440.37,302.94h1M440.37,304.39h1M443.04,302.61V304.11M442.54,302.61h1M442.54,304.11h1M445.21,302.25V303.8M444.71,302.25h1M444.71,303.8h1M447.39,301.83V303.44M446.89,301.83h1M446.89,303.44h1M449.56,301.42V303.08M449.06,301.42h1M449.06,303.08h1M451.73,301.01V302.72M451.23,301.01h1M451.23,302.72h1M453.9,300.6V302.37M453.4,300.6h1M453.4,302.37h1M456.07,300.19V302.01M455.57,300.19h1M455.57,302.01h1M458.25,299.02V301M457.75,299.02h1M457.75,301h1M460.42,297.96V300.08M459.92,297.96h1M459.92,300.08h1M462.59,296.79V299.07M462.09,296.79h1M462.09,299.07h1M464.76,295.18V297.67M464.26,295.18h1M464.26,297.67h1M466.93,293.58V296.28M466.43,293.58h1M466.43,296.28h1M469.11,291.73V294.68M468.61,291.73h1M468.61,294.68h1M471.28,288.96V292.28M470.78,288.96h1M470.78,292.28h1M473.45,286V289.7M472.95,286h1M472.95,289.7h1M475.62,282.57V286.73M475.12,282.57h1M475.12,286.73h1M477.8,279.13V283.75M477.3,279.13h1M477.3,283.75h1M479.97,275.7V280.77M479.47,275.7h1M479.47,280.77h1M482.14,271.64V277.25M481.64,271.64h1M481.64,277.25h1M484.31,267.14V273.35M483.81,267.14h1M483.81,273.35h1M486.48,261.55V268.5M485.98,261.55h1M485.98,268.5h1M488.66,257.05V264.6M488.16,257.05h1M488.16,264.6h1M490.83,250.21V258.66M490.33,250.21h1M490.33,258.66h1M493,243.79V253.1M492.5,243.79h1M492.5,253.1h1" stroke="#b8b8b8" stroke-width="0.3" fill="none"/>
<path d="M359.75,307.54h1.5v1.5h-1.5zM361.92,307.49h1.5v1.5h-1.5zM364.09,307.43h1.5v1.5h-1.5zM366.27,307.38h1.5v1.5h-1.5zM368.44,307.32h1.5v1.5h-1.5zM370.61,307.27h1.5v1.5h-1.5zM372.78,307.21h1.5v1.5h-1.5zM374.95,307.15h1.5v1.5h-1.5zM377.13,307.1h1.5v1.5h-1.5zM379.3,307.04h1.5v1.5h-1.5zM381.47,306.99h1.5v1.5h-1.5zM383.64,306.93h1.5v1.5h-1.5zM385.82,306.88h1.5v1.5h-1.5zM387.99,306.82h1.5v1.5h-1.5zM390.16,306.72h1.5v1.5h-1.5zM392.33,306.62h1.5v1.5h-1.5zM394.5,306.51h1.5v1.5h-1.5zM396.68,306.41h1.5v1.5h-1.5zM398.85,306.3h1.5v1.5h-1.5zM401.02,306.2h1.5v1.5h-1.5zM403.19,306.1h1.5v1.5h-1.5zM405.36,305.99h1.5v1.5h-1.5zM407.54,305.89h1.5v1.5h-1.5zM409.71,305.76h1.5v1.5h-1.5zM411.88,305.63h1.5v1.5h-1.5zM414.05,305.49h1.5v1.5h-1.5zM416.23,305.36h1.5v1.5h-1.5zM418.4,305.23h1.5v1.5h-1.5zM420.57,305.1h1.5v1.5h-1.5zM422.74,304.96h1.5v1.5h-1.5zM424.91,304.83h1.5v1.5h-1.5zM427.09,304.7h1.5v1.5h-1.5zM429.26,304.45h1.5v1.5h-1.5zM431.43,304.14h1.5v1.5h-1.5zM433.6,303.83h1.5v1.5h-1.5zM435.77,303.53h1.5v1.5h-1.5zM437.95,303.22h1.5v1.5h-1.5zM440.12,302.92h1.5v1.5h-1.5zM442.29,302.61h1.5v1.5h-1.5zM444.46,302.27h1.5v1.5h-1.5zM446.64,301.89h1.5v1.5h-1.5zM448.81,301.5h1.5v1.5h-1.5zM450.98,301.12h1.5v1.5h-1.5zM453.15,300.73h1.5v1.5h-1.5zM455.32,300.35h1.5v1.5h-1.5zM457.5,299.26h1.5v1.5h-1.5zM459.67,298.27h1.5v1.5h-1.5zM461.84,297.18h1.5v1.5h-1.5zM464.01,295.68h1.5v1.5h-1.5zM466.18,294.18h1.5v1.5h-1.5zM468.36,292.45h1.5v1.5h-1.5zM470.53,289.87h1.5v1.5h-1.5zM472.7,287.1h1.5v1.5h-1.5zM474.87,283.9h1.5v1.5h-1.5zM477.05,280.69h1.5v1.5h-1.5zM479.22,277.48h1.5v1.5h-1.5zM481.39,273.69h1.5v1.5h-1.5zM483.56,269.5h1.5v1.5h-1.5zM485.73,264.28h1.5v1.5h-1.5zM487.91,260.08h1.5v1.5h-1.5zM490.08,253.68h1.5v1.5h-1.5zM492.25,247.7h1.5v1.5h-1.5z" fill="#f01818"/>
<text x="503.8" y="233.77" font-size="3.8" font-weight="bold">Gene</text>
<text x="532.8" y="233.77" font-size="3.8" text-anchor="middle" font-weight="bold">Coef</text>
<text x="551.8" y="233.77" font-size="3.8" text-anchor="middle" font-weight="bold">mean</text>
<line x1="503.5" y1="239.4" x2="669" y2="239.4" stroke="#999" stroke-width="0.4" stroke-dasharray="0.8,0.8"/>
<text x="503.8" y="247.7" font-size="3.9" fill="#222" class="pt">ABCA4</text>
<text x="537.6" y="247.7" font-size="3.9" text-anchor="end" fill="#222" class="pt">0.958</text>
<text x="557.3" y="247.7" font-size="3.9" text-anchor="end" fill="#222" class="pt">5.136</text>
<line x1="588.9" y1="246.3" x2="614" y2="246.3" stroke="#f4a0a0" stroke-width="0.6"/>
<rect x="599.6" y="243.8" width="5" height="5" fill="#2f4b87"/>
<text x="503.8" y="260.9" font-size="3.9" fill="#222" class="pt">MAOA</text>
<text x="537.6" y="260.9" font-size="3.9" text-anchor="end" fill="#222" class="pt">0.089</text>
<text x="557.3" y="260.9" font-size="3.9" text-anchor="end" fill="#222" class="pt">8.882</text>
<line x1="611.5" y1="259.5" x2="641.4" y2="259.5" stroke="#f4a0a0" stroke-width="0.6"/>
<rect x="626.6" y="257" width="5" height="5" fill="#2f4b87"/>
<text x="503.8" y="274.8" font-size="3.9" fill="#222" class="pt">KIF3A</text>
<text x="537.6" y="274.8" font-size="3.9" text-anchor="end" fill="#222" class="pt">0.61</text>
<text x="557.3" y="274.8" font-size="3.9" text-anchor="end" fill="#222" class="pt">6.811</text>
<line x1="599" y1="273.4" x2="624.7" y2="273.4" stroke="#f4a0a0" stroke-width="0.6"/>
<rect x="612.2" y="270.9" width="5" height="5" fill="#2f4b87"/>
<text x="503.8" y="288.1" font-size="3.9" fill="#222" class="pt">NFKB2</text>
<text x="537.6" y="288.1" font-size="3.9" text-anchor="end" fill="#222" class="pt">2.671</text>
<text x="557.3" y="288.1" font-size="3.9" text-anchor="end" fill="#222" class="pt">8.767</text>
<line x1="618.8" y1="286.7" x2="636" y2="286.7" stroke="#f4a0a0" stroke-width="0.6"/>
<rect x="625.7" y="284.2" width="5" height="5" fill="#2f4b87"/>
<text x="503.8" y="301.6" font-size="3.9" fill="#222" class="pt">BAX</text>
<text x="537.6" y="301.6" font-size="3.9" text-anchor="end" fill="#222" class="pt">−0.482</text>
<text x="557.3" y="301.6" font-size="3.9" text-anchor="end" fill="#222" class="pt">10.862</text>
<line x1="636" y1="300.2" x2="656.1" y2="300.2" stroke="#f4a0a0" stroke-width="0.6"/>
<rect x="641.4" y="297.7" width="5" height="5" fill="#2f4b87"/>
<text x="503.8" y="315.3" font-size="3.9" fill="#222" class="pt">YWHAE</text>
<text x="537.6" y="315.3" font-size="3.9" text-anchor="end" fill="#222" class="pt">2.725</text>
<text x="557.3" y="315.3" font-size="3.9" text-anchor="end" fill="#222" class="pt">12.863</text>
<line x1="647.6" y1="313.9" x2="672" y2="313.9" stroke="#f4a0a0" stroke-width="0.6"/>
<rect x="656.1" y="311.4" width="5" height="5" fill="#2f4b87"/>
<line x1="565.2" y1="239.4" x2="565.2" y2="319.8" stroke="#ccc" stroke-width="0.4"/>
<line x1="565.2" y1="319.8" x2="669" y2="319.8" stroke="#333" stroke-width="0.4"/>
<line x1="565.4" y1="319.8" x2="565.4" y2="321.2" stroke="#333" stroke-width="0.35"/>
<text x="565.4" y="326.05" font-size="3.2" text-anchor="middle">0</text>
<line x1="572.62" y1="319.8" x2="572.62" y2="321.2" stroke="#333" stroke-width="0.35"/>
<text x="572.62" y="326.05" font-size="3.2" text-anchor="middle">1</text>
<line x1="579.84" y1="319.8" x2="579.84" y2="321.2" stroke="#333" stroke-width="0.35"/>
<text x="579.84" y="326.05" font-size="3.2" text-anchor="middle">2</text>
<line x1="587.06" y1="319.8" x2="587.06" y2="321.2" stroke="#333" stroke-width="0.35"/>
<text x="587.06" y="326.05" font-size="3.2" text-anchor="middle">3</text>
<line x1="594.28" y1="319.8" x2="594.28" y2="321.2" stroke="#333" stroke-width="0.35"/>
<text x="594.28" y="326.05" font-size="3.2" text-anchor="middle">4</text>
<line x1="601.5" y1="319.8" x2="601.5" y2="321.2" stroke="#333" stroke-width="0.35"/>
<text x="601.5" y="326.05" font-size="3.2" text-anchor="middle">5</text>
<line x1="608.72" y1="319.8" x2="608.72" y2="321.2" stroke="#333" stroke-width="0.35"/>
<text x="608.72" y="326.05" font-size="3.2" text-anchor="middle">6</text>
<line x1="615.94" y1="319.8" x2="615.94" y2="321.2" stroke="#333" stroke-width="0.35"/>
<text x="615.94" y="326.05" font-size="3.2" text-anchor="middle">7</text>
<line x1="623.16" y1="319.8" x2="623.16" y2="321.2" stroke="#333" stroke-width="0.35"/>
<text x="623.16" y="326.05" font-size="3.2" text-anchor="middle">8</text>
<line x1="630.38" y1="319.8" x2="630.38" y2="321.2" stroke="#333" stroke-width="0.35"/>
<text x="630.38" y="326.05" font-size="3.2" text-anchor="middle">9</text>
<line x1="637.6" y1="319.8" x2="637.6" y2="321.2" stroke="#333" stroke-width="0.35"/>
<text x="637.6" y="326.05" font-size="3.2" text-anchor="middle">10</text>
<line x1="644.82" y1="319.8" x2="644.82" y2="321.2" stroke="#333" stroke-width="0.35"/>
<text x="644.82" y="326.05" font-size="3.2" text-anchor="middle">11</text>
<line x1="652.04" y1="319.8" x2="652.04" y2="321.2" stroke="#333" stroke-width="0.35"/>
<text x="652.04" y="326.05" font-size="3.2" text-anchor="middle">12</text>
<line x1="659.26" y1="319.8" x2="659.26" y2="321.2" stroke="#333" stroke-width="0.35"/>
<text x="659.26" y="326.05" font-size="3.2" text-anchor="middle">13</text>
<line x1="666.48" y1="319.8" x2="666.48" y2="321.2" stroke="#333" stroke-width="0.35"/>
<text x="666.48" y="326.05" font-size="3.2" text-anchor="middle">14</text></svg>
</body></html>
